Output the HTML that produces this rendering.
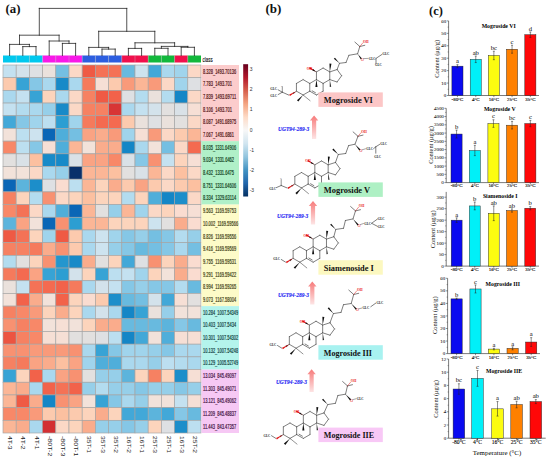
<!DOCTYPE html>
<html><head><meta charset="utf-8"><style>html,body{margin:0;padding:0;background:#fff;width:550px;height:458px;overflow:hidden}svg{display:block}</style></head>
<body><svg width="550" height="458" viewBox="0 0 550 458">
<rect x="0" y="0" width="550" height="458" fill="#fff"/>
<g stroke="#a4a4a4" stroke-width="0.65">
<rect x="3" y="65" width="13.2" height="12.69" fill="#c4e1f0"/>
<rect x="16.2" y="65" width="13.2" height="12.69" fill="#d3e2eb"/>
<rect x="29.4" y="65" width="13.2" height="12.69" fill="#dee0e3"/>
<rect x="42.6" y="65" width="13.2" height="12.69" fill="#eae1dc"/>
<rect x="55.8" y="65" width="13.2" height="12.69" fill="#74bfe2"/>
<rect x="69" y="65" width="13.2" height="12.69" fill="#fbd8c6"/>
<rect x="82.2" y="65" width="13.2" height="12.69" fill="#ef5a44"/>
<rect x="95.4" y="65" width="13.2" height="12.69" fill="#f47256"/>
<rect x="108.6" y="65" width="13.2" height="12.69" fill="#f47256"/>
<rect x="121.8" y="65" width="13.2" height="12.69" fill="#68badf"/>
<rect x="135" y="65" width="13.2" height="12.69" fill="#cde3ef"/>
<rect x="148.2" y="65" width="13.2" height="12.69" fill="#42a8d8"/>
<rect x="161.4" y="65" width="13.2" height="12.69" fill="#aad8ee"/>
<rect x="174.6" y="65" width="13.2" height="12.69" fill="#a0d4ec"/>
<rect x="187.8" y="65" width="13.2" height="12.69" fill="#fbd8c6"/>
<rect x="3" y="77.69" width="13.2" height="12.69" fill="#fccaae"/>
<rect x="16.2" y="77.69" width="13.2" height="12.69" fill="#37a3d5"/>
<rect x="29.4" y="77.69" width="13.2" height="12.69" fill="#85c7e6"/>
<rect x="42.6" y="77.69" width="13.2" height="12.69" fill="#aad8ee"/>
<rect x="55.8" y="77.69" width="13.2" height="12.69" fill="#188ac8"/>
<rect x="69" y="77.69" width="13.2" height="12.69" fill="#aad8ee"/>
<rect x="82.2" y="77.69" width="13.2" height="12.69" fill="#f57a5c"/>
<rect x="95.4" y="77.69" width="13.2" height="12.69" fill="#f6dfd5"/>
<rect x="108.6" y="77.69" width="13.2" height="12.69" fill="#fccaae"/>
<rect x="121.8" y="77.69" width="13.2" height="12.69" fill="#f99a7a"/>
<rect x="135" y="77.69" width="13.2" height="12.69" fill="#fbb696"/>
<rect x="148.2" y="77.69" width="13.2" height="12.69" fill="#f99a7a"/>
<rect x="161.4" y="77.69" width="13.2" height="12.69" fill="#fbd8c6"/>
<rect x="174.6" y="77.69" width="13.2" height="12.69" fill="#a0d4ec"/>
<rect x="187.8" y="77.69" width="13.2" height="12.69" fill="#dee0e3"/>
<rect x="3" y="90.38" width="13.2" height="12.69" fill="#aad8ee"/>
<rect x="16.2" y="90.38" width="13.2" height="12.69" fill="#c4e1f0"/>
<rect x="29.4" y="90.38" width="13.2" height="12.69" fill="#37a3d5"/>
<rect x="42.6" y="90.38" width="13.2" height="12.69" fill="#fcd4bc"/>
<rect x="55.8" y="90.38" width="13.2" height="12.69" fill="#aad8ee"/>
<rect x="69" y="90.38" width="13.2" height="12.69" fill="#fbd8c6"/>
<rect x="82.2" y="90.38" width="13.2" height="12.69" fill="#f68162"/>
<rect x="95.4" y="90.38" width="13.2" height="12.69" fill="#ef5a44"/>
<rect x="108.6" y="90.38" width="13.2" height="12.69" fill="#f2624a"/>
<rect x="121.8" y="90.38" width="13.2" height="12.69" fill="#dee0e3"/>
<rect x="135" y="90.38" width="13.2" height="12.69" fill="#b3dcef"/>
<rect x="148.2" y="90.38" width="13.2" height="12.69" fill="#eae1dc"/>
<rect x="161.4" y="90.38" width="13.2" height="12.69" fill="#b3dcef"/>
<rect x="174.6" y="90.38" width="13.2" height="12.69" fill="#1486c6"/>
<rect x="187.8" y="90.38" width="13.2" height="12.69" fill="#fbd8c6"/>
<rect x="3" y="103.07" width="13.2" height="12.69" fill="#c4e1f0"/>
<rect x="16.2" y="103.07" width="13.2" height="12.69" fill="#b3dcef"/>
<rect x="29.4" y="103.07" width="13.2" height="12.69" fill="#aad8ee"/>
<rect x="42.6" y="103.07" width="13.2" height="12.69" fill="#96cfe9"/>
<rect x="55.8" y="103.07" width="13.2" height="12.69" fill="#188ac8"/>
<rect x="69" y="103.07" width="13.2" height="12.69" fill="#fbd8c6"/>
<rect x="82.2" y="103.07" width="13.2" height="12.69" fill="#f68162"/>
<rect x="95.4" y="103.07" width="13.2" height="12.69" fill="#f68162"/>
<rect x="108.6" y="103.07" width="13.2" height="12.69" fill="#d83535"/>
<rect x="121.8" y="103.07" width="13.2" height="12.69" fill="#aad8ee"/>
<rect x="135" y="103.07" width="13.2" height="12.69" fill="#c4e1f0"/>
<rect x="148.2" y="103.07" width="13.2" height="12.69" fill="#d3e2eb"/>
<rect x="161.4" y="103.07" width="13.2" height="12.69" fill="#e2e0df"/>
<rect x="174.6" y="103.07" width="13.2" height="12.69" fill="#d9e1e7"/>
<rect x="187.8" y="103.07" width="13.2" height="12.69" fill="#f6dfd5"/>
<rect x="3" y="115.76" width="13.2" height="12.69" fill="#42a8d8"/>
<rect x="16.2" y="115.76" width="13.2" height="12.69" fill="#85c7e6"/>
<rect x="29.4" y="115.76" width="13.2" height="12.69" fill="#a0d4ec"/>
<rect x="42.6" y="115.76" width="13.2" height="12.69" fill="#bcdff0"/>
<rect x="55.8" y="115.76" width="13.2" height="12.69" fill="#2c9ed2"/>
<rect x="69" y="115.76" width="13.2" height="12.69" fill="#a0d4ec"/>
<rect x="82.2" y="115.76" width="13.2" height="12.69" fill="#f57a5c"/>
<rect x="95.4" y="115.76" width="13.2" height="12.69" fill="#f46a50"/>
<rect x="108.6" y="115.76" width="13.2" height="12.69" fill="#f46a50"/>
<rect x="121.8" y="115.76" width="13.2" height="12.69" fill="#fccaae"/>
<rect x="135" y="115.76" width="13.2" height="12.69" fill="#eae1dc"/>
<rect x="148.2" y="115.76" width="13.2" height="12.69" fill="#dee0e3"/>
<rect x="161.4" y="115.76" width="13.2" height="12.69" fill="#eae1dc"/>
<rect x="174.6" y="115.76" width="13.2" height="12.69" fill="#e2e0df"/>
<rect x="187.8" y="115.76" width="13.2" height="12.69" fill="#fbd8c6"/>
<rect x="3" y="128.45" width="13.2" height="12.69" fill="#f2e2da"/>
<rect x="16.2" y="128.45" width="13.2" height="12.69" fill="#bcdff0"/>
<rect x="29.4" y="128.45" width="13.2" height="12.69" fill="#cde3ef"/>
<rect x="42.6" y="128.45" width="13.2" height="12.69" fill="#0a66b6"/>
<rect x="55.8" y="128.45" width="13.2" height="12.69" fill="#4faeda"/>
<rect x="69" y="128.45" width="13.2" height="12.69" fill="#74bfe2"/>
<rect x="82.2" y="128.45" width="13.2" height="12.69" fill="#faa383"/>
<rect x="95.4" y="128.45" width="13.2" height="12.69" fill="#faac8c"/>
<rect x="108.6" y="128.45" width="13.2" height="12.69" fill="#f99a7a"/>
<rect x="121.8" y="128.45" width="13.2" height="12.69" fill="#a0d4ec"/>
<rect x="135" y="128.45" width="13.2" height="12.69" fill="#f6dfd5"/>
<rect x="148.2" y="128.45" width="13.2" height="12.69" fill="#f99a7a"/>
<rect x="161.4" y="128.45" width="13.2" height="12.69" fill="#fbd8c6"/>
<rect x="174.6" y="128.45" width="13.2" height="12.69" fill="#fccaae"/>
<rect x="187.8" y="128.45" width="13.2" height="12.69" fill="#fbb696"/>
<rect x="3" y="141.14" width="13.2" height="12.69" fill="#f88868"/>
<rect x="16.2" y="141.14" width="13.2" height="12.69" fill="#bcdff0"/>
<rect x="29.4" y="141.14" width="13.2" height="12.69" fill="#85c7e6"/>
<rect x="42.6" y="141.14" width="13.2" height="12.69" fill="#f6dfd5"/>
<rect x="55.8" y="141.14" width="13.2" height="12.69" fill="#4faeda"/>
<rect x="69" y="141.14" width="13.2" height="12.69" fill="#fbb696"/>
<rect x="82.2" y="141.14" width="13.2" height="12.69" fill="#f2e2da"/>
<rect x="95.4" y="141.14" width="13.2" height="12.69" fill="#faac8c"/>
<rect x="108.6" y="141.14" width="13.2" height="12.69" fill="#faac8c"/>
<rect x="121.8" y="141.14" width="13.2" height="12.69" fill="#1486c6"/>
<rect x="135" y="141.14" width="13.2" height="12.69" fill="#aad8ee"/>
<rect x="148.2" y="141.14" width="13.2" height="12.69" fill="#f2e2da"/>
<rect x="161.4" y="141.14" width="13.2" height="12.69" fill="#74bfe2"/>
<rect x="174.6" y="141.14" width="13.2" height="12.69" fill="#fbd8c6"/>
<rect x="187.8" y="141.14" width="13.2" height="12.69" fill="#f46a50"/>
<rect x="3" y="153.83" width="13.2" height="12.69" fill="#e2e0df"/>
<rect x="16.2" y="153.83" width="13.2" height="12.69" fill="#d9e1e7"/>
<rect x="29.4" y="153.83" width="13.2" height="12.69" fill="#fcc0a0"/>
<rect x="42.6" y="153.83" width="13.2" height="12.69" fill="#188ac8"/>
<rect x="55.8" y="153.83" width="13.2" height="12.69" fill="#188ac8"/>
<rect x="69" y="153.83" width="13.2" height="12.69" fill="#d9e1e7"/>
<rect x="82.2" y="153.83" width="13.2" height="12.69" fill="#faa383"/>
<rect x="95.4" y="153.83" width="13.2" height="12.69" fill="#faa383"/>
<rect x="108.6" y="153.83" width="13.2" height="12.69" fill="#f88868"/>
<rect x="121.8" y="153.83" width="13.2" height="12.69" fill="#d9e1e7"/>
<rect x="135" y="153.83" width="13.2" height="12.69" fill="#85c7e6"/>
<rect x="148.2" y="153.83" width="13.2" height="12.69" fill="#f89171"/>
<rect x="161.4" y="153.83" width="13.2" height="12.69" fill="#c4e1f0"/>
<rect x="174.6" y="153.83" width="13.2" height="12.69" fill="#fcd4bc"/>
<rect x="187.8" y="153.83" width="13.2" height="12.69" fill="#f6dfd5"/>
<rect x="3" y="166.52" width="13.2" height="12.69" fill="#f2e2da"/>
<rect x="16.2" y="166.52" width="13.2" height="12.69" fill="#f2e2da"/>
<rect x="29.4" y="166.52" width="13.2" height="12.69" fill="#fbd8c6"/>
<rect x="42.6" y="166.52" width="13.2" height="12.69" fill="#aad8ee"/>
<rect x="55.8" y="166.52" width="13.2" height="12.69" fill="#96cfe9"/>
<rect x="69" y="166.52" width="13.2" height="12.69" fill="#08306b"/>
<rect x="82.2" y="166.52" width="13.2" height="12.69" fill="#fbb696"/>
<rect x="95.4" y="166.52" width="13.2" height="12.69" fill="#fbb696"/>
<rect x="108.6" y="166.52" width="13.2" height="12.69" fill="#fcc0a0"/>
<rect x="121.8" y="166.52" width="13.2" height="12.69" fill="#e2e0df"/>
<rect x="135" y="166.52" width="13.2" height="12.69" fill="#d9e1e7"/>
<rect x="148.2" y="166.52" width="13.2" height="12.69" fill="#fbb696"/>
<rect x="161.4" y="166.52" width="13.2" height="12.69" fill="#fbd8c6"/>
<rect x="174.6" y="166.52" width="13.2" height="12.69" fill="#fcc0a0"/>
<rect x="187.8" y="166.52" width="13.2" height="12.69" fill="#fbd8c6"/>
<rect x="3" y="179.21" width="13.2" height="12.69" fill="#0a66b6"/>
<rect x="16.2" y="179.21" width="13.2" height="12.69" fill="#5cb4dc"/>
<rect x="29.4" y="179.21" width="13.2" height="12.69" fill="#1c8eca"/>
<rect x="42.6" y="179.21" width="13.2" height="12.69" fill="#dee0e3"/>
<rect x="55.8" y="179.21" width="13.2" height="12.69" fill="#fadcd0"/>
<rect x="69" y="179.21" width="13.2" height="12.69" fill="#bcdff0"/>
<rect x="82.2" y="179.21" width="13.2" height="12.69" fill="#fbb696"/>
<rect x="95.4" y="179.21" width="13.2" height="12.69" fill="#fcd4bc"/>
<rect x="108.6" y="179.21" width="13.2" height="12.69" fill="#faac8c"/>
<rect x="121.8" y="179.21" width="13.2" height="12.69" fill="#fccaae"/>
<rect x="135" y="179.21" width="13.2" height="12.69" fill="#faa383"/>
<rect x="148.2" y="179.21" width="13.2" height="12.69" fill="#fccaae"/>
<rect x="161.4" y="179.21" width="13.2" height="12.69" fill="#fbd8c6"/>
<rect x="174.6" y="179.21" width="13.2" height="12.69" fill="#fccaae"/>
<rect x="187.8" y="179.21" width="13.2" height="12.69" fill="#fcc0a0"/>
<rect x="3" y="191.9" width="13.2" height="12.69" fill="#f68162"/>
<rect x="16.2" y="191.9" width="13.2" height="12.69" fill="#fcd4bc"/>
<rect x="29.4" y="191.9" width="13.2" height="12.69" fill="#b3dcef"/>
<rect x="42.6" y="191.9" width="13.2" height="12.69" fill="#f89171"/>
<rect x="55.8" y="191.9" width="13.2" height="12.69" fill="#fbd8c6"/>
<rect x="69" y="191.9" width="13.2" height="12.69" fill="#fcd4bc"/>
<rect x="82.2" y="191.9" width="13.2" height="12.69" fill="#fcc0a0"/>
<rect x="95.4" y="191.9" width="13.2" height="12.69" fill="#fcd4bc"/>
<rect x="108.6" y="191.9" width="13.2" height="12.69" fill="#fcd4bc"/>
<rect x="121.8" y="191.9" width="13.2" height="12.69" fill="#b3dcef"/>
<rect x="135" y="191.9" width="13.2" height="12.69" fill="#fcd4bc"/>
<rect x="148.2" y="191.9" width="13.2" height="12.69" fill="#4faeda"/>
<rect x="161.4" y="191.9" width="13.2" height="12.69" fill="#1486c6"/>
<rect x="174.6" y="191.9" width="13.2" height="12.69" fill="#1c8eca"/>
<rect x="187.8" y="191.9" width="13.2" height="12.69" fill="#fbd8c6"/>
<rect x="3" y="204.59" width="13.2" height="12.69" fill="#f88868"/>
<rect x="16.2" y="204.59" width="13.2" height="12.69" fill="#f47256"/>
<rect x="29.4" y="204.59" width="13.2" height="12.69" fill="#fbd8c6"/>
<rect x="42.6" y="204.59" width="13.2" height="12.69" fill="#aad8ee"/>
<rect x="55.8" y="204.59" width="13.2" height="12.69" fill="#4faeda"/>
<rect x="69" y="204.59" width="13.2" height="12.69" fill="#0a66b6"/>
<rect x="82.2" y="204.59" width="13.2" height="12.69" fill="#fbb696"/>
<rect x="95.4" y="204.59" width="13.2" height="12.69" fill="#e2e0df"/>
<rect x="108.6" y="204.59" width="13.2" height="12.69" fill="#96cfe9"/>
<rect x="121.8" y="204.59" width="13.2" height="12.69" fill="#fbb696"/>
<rect x="135" y="204.59" width="13.2" height="12.69" fill="#a0d4ec"/>
<rect x="148.2" y="204.59" width="13.2" height="12.69" fill="#fbd8c6"/>
<rect x="161.4" y="204.59" width="13.2" height="12.69" fill="#fcd4bc"/>
<rect x="174.6" y="204.59" width="13.2" height="12.69" fill="#fadcd0"/>
<rect x="187.8" y="204.59" width="13.2" height="12.69" fill="#f6dfd5"/>
<rect x="3" y="217.28" width="13.2" height="12.69" fill="#5cb4dc"/>
<rect x="16.2" y="217.28" width="13.2" height="12.69" fill="#faa383"/>
<rect x="29.4" y="217.28" width="13.2" height="12.69" fill="#f2e2da"/>
<rect x="42.6" y="217.28" width="13.2" height="12.69" fill="#0a66b6"/>
<rect x="55.8" y="217.28" width="13.2" height="12.69" fill="#f89171"/>
<rect x="69" y="217.28" width="13.2" height="12.69" fill="#2c9ed2"/>
<rect x="82.2" y="217.28" width="13.2" height="12.69" fill="#fbb696"/>
<rect x="95.4" y="217.28" width="13.2" height="12.69" fill="#fbb696"/>
<rect x="108.6" y="217.28" width="13.2" height="12.69" fill="#fcd4bc"/>
<rect x="121.8" y="217.28" width="13.2" height="12.69" fill="#fcd4bc"/>
<rect x="135" y="217.28" width="13.2" height="12.69" fill="#fcd4bc"/>
<rect x="148.2" y="217.28" width="13.2" height="12.69" fill="#cde3ef"/>
<rect x="161.4" y="217.28" width="13.2" height="12.69" fill="#e2e0df"/>
<rect x="174.6" y="217.28" width="13.2" height="12.69" fill="#faac8c"/>
<rect x="187.8" y="217.28" width="13.2" height="12.69" fill="#fadcd0"/>
<rect x="3" y="229.97" width="13.2" height="12.69" fill="#ef5a44"/>
<rect x="16.2" y="229.97" width="13.2" height="12.69" fill="#f47256"/>
<rect x="29.4" y="229.97" width="13.2" height="12.69" fill="#fcd4bc"/>
<rect x="42.6" y="229.97" width="13.2" height="12.69" fill="#a0d4ec"/>
<rect x="55.8" y="229.97" width="13.2" height="12.69" fill="#ef5a44"/>
<rect x="69" y="229.97" width="13.2" height="12.69" fill="#fccaae"/>
<rect x="82.2" y="229.97" width="13.2" height="12.69" fill="#aad8ee"/>
<rect x="95.4" y="229.97" width="13.2" height="12.69" fill="#cde3ef"/>
<rect x="108.6" y="229.97" width="13.2" height="12.69" fill="#a0d4ec"/>
<rect x="121.8" y="229.97" width="13.2" height="12.69" fill="#85c7e6"/>
<rect x="135" y="229.97" width="13.2" height="12.69" fill="#96cfe9"/>
<rect x="148.2" y="229.97" width="13.2" height="12.69" fill="#74bfe2"/>
<rect x="161.4" y="229.97" width="13.2" height="12.69" fill="#85c7e6"/>
<rect x="174.6" y="229.97" width="13.2" height="12.69" fill="#b3dcef"/>
<rect x="187.8" y="229.97" width="13.2" height="12.69" fill="#96cfe9"/>
<rect x="3" y="242.66" width="13.2" height="12.69" fill="#f68162"/>
<rect x="16.2" y="242.66" width="13.2" height="12.69" fill="#f68162"/>
<rect x="29.4" y="242.66" width="13.2" height="12.69" fill="#f57a5c"/>
<rect x="42.6" y="242.66" width="13.2" height="12.69" fill="#faac8c"/>
<rect x="55.8" y="242.66" width="13.2" height="12.69" fill="#f89171"/>
<rect x="69" y="242.66" width="13.2" height="12.69" fill="#fccaae"/>
<rect x="82.2" y="242.66" width="13.2" height="12.69" fill="#aad8ee"/>
<rect x="95.4" y="242.66" width="13.2" height="12.69" fill="#cde3ef"/>
<rect x="108.6" y="242.66" width="13.2" height="12.69" fill="#96cfe9"/>
<rect x="121.8" y="242.66" width="13.2" height="12.69" fill="#85c7e6"/>
<rect x="135" y="242.66" width="13.2" height="12.69" fill="#68badf"/>
<rect x="148.2" y="242.66" width="13.2" height="12.69" fill="#74bfe2"/>
<rect x="161.4" y="242.66" width="13.2" height="12.69" fill="#85c7e6"/>
<rect x="174.6" y="242.66" width="13.2" height="12.69" fill="#aad8ee"/>
<rect x="187.8" y="242.66" width="13.2" height="12.69" fill="#74bfe2"/>
<rect x="3" y="255.35" width="13.2" height="12.69" fill="#b3dcef"/>
<rect x="16.2" y="255.35" width="13.2" height="12.69" fill="#e2e0df"/>
<rect x="29.4" y="255.35" width="13.2" height="12.69" fill="#fcd4bc"/>
<rect x="42.6" y="255.35" width="13.2" height="12.69" fill="#f89171"/>
<rect x="55.8" y="255.35" width="13.2" height="12.69" fill="#2496ce"/>
<rect x="69" y="255.35" width="13.2" height="12.69" fill="#188ac8"/>
<rect x="82.2" y="255.35" width="13.2" height="12.69" fill="#faac8c"/>
<rect x="95.4" y="255.35" width="13.2" height="12.69" fill="#e2e0df"/>
<rect x="108.6" y="255.35" width="13.2" height="12.69" fill="#fcd4bc"/>
<rect x="121.8" y="255.35" width="13.2" height="12.69" fill="#42a8d8"/>
<rect x="135" y="255.35" width="13.2" height="12.69" fill="#dee0e3"/>
<rect x="148.2" y="255.35" width="13.2" height="12.69" fill="#f89171"/>
<rect x="161.4" y="255.35" width="13.2" height="12.69" fill="#fcd4bc"/>
<rect x="174.6" y="255.35" width="13.2" height="12.69" fill="#faac8c"/>
<rect x="187.8" y="255.35" width="13.2" height="12.69" fill="#fadcd0"/>
<rect x="3" y="268.04" width="13.2" height="12.69" fill="#f57a5c"/>
<rect x="16.2" y="268.04" width="13.2" height="12.69" fill="#f46a50"/>
<rect x="29.4" y="268.04" width="13.2" height="12.69" fill="#faa383"/>
<rect x="42.6" y="268.04" width="13.2" height="12.69" fill="#37a3d5"/>
<rect x="55.8" y="268.04" width="13.2" height="12.69" fill="#2c9ed2"/>
<rect x="69" y="268.04" width="13.2" height="12.69" fill="#d3e2eb"/>
<rect x="82.2" y="268.04" width="13.2" height="12.69" fill="#fcd4bc"/>
<rect x="95.4" y="268.04" width="13.2" height="12.69" fill="#37a3d5"/>
<rect x="108.6" y="268.04" width="13.2" height="12.69" fill="#bcdff0"/>
<rect x="121.8" y="268.04" width="13.2" height="12.69" fill="#c4e1f0"/>
<rect x="135" y="268.04" width="13.2" height="12.69" fill="#a0d4ec"/>
<rect x="148.2" y="268.04" width="13.2" height="12.69" fill="#fcd4bc"/>
<rect x="161.4" y="268.04" width="13.2" height="12.69" fill="#f2e2da"/>
<rect x="174.6" y="268.04" width="13.2" height="12.69" fill="#faac8c"/>
<rect x="187.8" y="268.04" width="13.2" height="12.69" fill="#fadcd0"/>
<rect x="3" y="280.73" width="13.2" height="12.69" fill="#eae1dc"/>
<rect x="16.2" y="280.73" width="13.2" height="12.69" fill="#c4e1f0"/>
<rect x="29.4" y="280.73" width="13.2" height="12.69" fill="#f47256"/>
<rect x="42.6" y="280.73" width="13.2" height="12.69" fill="#f46a50"/>
<rect x="55.8" y="280.73" width="13.2" height="12.69" fill="#f2624a"/>
<rect x="69" y="280.73" width="13.2" height="12.69" fill="#f57a5c"/>
<rect x="82.2" y="280.73" width="13.2" height="12.69" fill="#aad8ee"/>
<rect x="95.4" y="280.73" width="13.2" height="12.69" fill="#d3e2eb"/>
<rect x="108.6" y="280.73" width="13.2" height="12.69" fill="#c4e1f0"/>
<rect x="121.8" y="280.73" width="13.2" height="12.69" fill="#85c7e6"/>
<rect x="135" y="280.73" width="13.2" height="12.69" fill="#96cfe9"/>
<rect x="148.2" y="280.73" width="13.2" height="12.69" fill="#85c7e6"/>
<rect x="161.4" y="280.73" width="13.2" height="12.69" fill="#85c7e6"/>
<rect x="174.6" y="280.73" width="13.2" height="12.69" fill="#b3dcef"/>
<rect x="187.8" y="280.73" width="13.2" height="12.69" fill="#68badf"/>
<rect x="3" y="293.42" width="13.2" height="12.69" fill="#f2e2da"/>
<rect x="16.2" y="293.42" width="13.2" height="12.69" fill="#f2624a"/>
<rect x="29.4" y="293.42" width="13.2" height="12.69" fill="#faac8c"/>
<rect x="42.6" y="293.42" width="13.2" height="12.69" fill="#f2e2da"/>
<rect x="55.8" y="293.42" width="13.2" height="12.69" fill="#f2624a"/>
<rect x="69" y="293.42" width="13.2" height="12.69" fill="#fcd4bc"/>
<rect x="82.2" y="293.42" width="13.2" height="12.69" fill="#fadcd0"/>
<rect x="95.4" y="293.42" width="13.2" height="12.69" fill="#fccaae"/>
<rect x="108.6" y="293.42" width="13.2" height="12.69" fill="#1c8eca"/>
<rect x="121.8" y="293.42" width="13.2" height="12.69" fill="#68badf"/>
<rect x="135" y="293.42" width="13.2" height="12.69" fill="#74bfe2"/>
<rect x="148.2" y="293.42" width="13.2" height="12.69" fill="#d3e2eb"/>
<rect x="161.4" y="293.42" width="13.2" height="12.69" fill="#42a8d8"/>
<rect x="174.6" y="293.42" width="13.2" height="12.69" fill="#f6dfd5"/>
<rect x="187.8" y="293.42" width="13.2" height="12.69" fill="#e2e0df"/>
<rect x="3" y="306.11" width="13.2" height="12.69" fill="#f68162"/>
<rect x="16.2" y="306.11" width="13.2" height="12.69" fill="#f88868"/>
<rect x="29.4" y="306.11" width="13.2" height="12.69" fill="#f99a7a"/>
<rect x="42.6" y="306.11" width="13.2" height="12.69" fill="#fcd4bc"/>
<rect x="55.8" y="306.11" width="13.2" height="12.69" fill="#faac8c"/>
<rect x="69" y="306.11" width="13.2" height="12.69" fill="#fcd4bc"/>
<rect x="82.2" y="306.11" width="13.2" height="12.69" fill="#aad8ee"/>
<rect x="95.4" y="306.11" width="13.2" height="12.69" fill="#d3e2eb"/>
<rect x="108.6" y="306.11" width="13.2" height="12.69" fill="#aad8ee"/>
<rect x="121.8" y="306.11" width="13.2" height="12.69" fill="#1486c6"/>
<rect x="135" y="306.11" width="13.2" height="12.69" fill="#37a3d5"/>
<rect x="148.2" y="306.11" width="13.2" height="12.69" fill="#eae1dc"/>
<rect x="161.4" y="306.11" width="13.2" height="12.69" fill="#96cfe9"/>
<rect x="174.6" y="306.11" width="13.2" height="12.69" fill="#f2e2da"/>
<rect x="187.8" y="306.11" width="13.2" height="12.69" fill="#f2e2da"/>
<rect x="3" y="318.8" width="13.2" height="12.69" fill="#f89171"/>
<rect x="16.2" y="318.8" width="13.2" height="12.69" fill="#f68162"/>
<rect x="29.4" y="318.8" width="13.2" height="12.69" fill="#f88868"/>
<rect x="42.6" y="318.8" width="13.2" height="12.69" fill="#f2e2da"/>
<rect x="55.8" y="318.8" width="13.2" height="12.69" fill="#f6dfd5"/>
<rect x="69" y="318.8" width="13.2" height="12.69" fill="#f2e2da"/>
<rect x="82.2" y="318.8" width="13.2" height="12.69" fill="#fcd4bc"/>
<rect x="95.4" y="318.8" width="13.2" height="12.69" fill="#faac8c"/>
<rect x="108.6" y="318.8" width="13.2" height="12.69" fill="#faac8c"/>
<rect x="121.8" y="318.8" width="13.2" height="12.69" fill="#68badf"/>
<rect x="135" y="318.8" width="13.2" height="12.69" fill="#68badf"/>
<rect x="148.2" y="318.8" width="13.2" height="12.69" fill="#68badf"/>
<rect x="161.4" y="318.8" width="13.2" height="12.69" fill="#5cb4dc"/>
<rect x="174.6" y="318.8" width="13.2" height="12.69" fill="#85c7e6"/>
<rect x="187.8" y="318.8" width="13.2" height="12.69" fill="#68badf"/>
<rect x="3" y="331.49" width="13.2" height="12.69" fill="#ec5441"/>
<rect x="16.2" y="331.49" width="13.2" height="12.69" fill="#f68162"/>
<rect x="29.4" y="331.49" width="13.2" height="12.69" fill="#f88868"/>
<rect x="42.6" y="331.49" width="13.2" height="12.69" fill="#f6dfd5"/>
<rect x="55.8" y="331.49" width="13.2" height="12.69" fill="#f6dfd5"/>
<rect x="69" y="331.49" width="13.2" height="12.69" fill="#e2e0df"/>
<rect x="82.2" y="331.49" width="13.2" height="12.69" fill="#e2e0df"/>
<rect x="95.4" y="331.49" width="13.2" height="12.69" fill="#dee0e3"/>
<rect x="108.6" y="331.49" width="13.2" height="12.69" fill="#bcdff0"/>
<rect x="121.8" y="331.49" width="13.2" height="12.69" fill="#1486c6"/>
<rect x="135" y="331.49" width="13.2" height="12.69" fill="#42a8d8"/>
<rect x="148.2" y="331.49" width="13.2" height="12.69" fill="#f2e2da"/>
<rect x="161.4" y="331.49" width="13.2" height="12.69" fill="#4faeda"/>
<rect x="174.6" y="331.49" width="13.2" height="12.69" fill="#f6dfd5"/>
<rect x="187.8" y="331.49" width="13.2" height="12.69" fill="#f6dfd5"/>
<rect x="3" y="344.18" width="13.2" height="12.69" fill="#f89171"/>
<rect x="16.2" y="344.18" width="13.2" height="12.69" fill="#f89171"/>
<rect x="29.4" y="344.18" width="13.2" height="12.69" fill="#f99a7a"/>
<rect x="42.6" y="344.18" width="13.2" height="12.69" fill="#f99a7a"/>
<rect x="55.8" y="344.18" width="13.2" height="12.69" fill="#f99a7a"/>
<rect x="69" y="344.18" width="13.2" height="12.69" fill="#f89171"/>
<rect x="82.2" y="344.18" width="13.2" height="12.69" fill="#aad8ee"/>
<rect x="95.4" y="344.18" width="13.2" height="12.69" fill="#37a3d5"/>
<rect x="108.6" y="344.18" width="13.2" height="12.69" fill="#85c7e6"/>
<rect x="121.8" y="344.18" width="13.2" height="12.69" fill="#a0d4ec"/>
<rect x="135" y="344.18" width="13.2" height="12.69" fill="#a0d4ec"/>
<rect x="148.2" y="344.18" width="13.2" height="12.69" fill="#96cfe9"/>
<rect x="161.4" y="344.18" width="13.2" height="12.69" fill="#85c7e6"/>
<rect x="174.6" y="344.18" width="13.2" height="12.69" fill="#aad8ee"/>
<rect x="187.8" y="344.18" width="13.2" height="12.69" fill="#aad8ee"/>
<rect x="3" y="356.87" width="13.2" height="12.69" fill="#f68162"/>
<rect x="16.2" y="356.87" width="13.2" height="12.69" fill="#f57a5c"/>
<rect x="29.4" y="356.87" width="13.2" height="12.69" fill="#faa383"/>
<rect x="42.6" y="356.87" width="13.2" height="12.69" fill="#faac8c"/>
<rect x="55.8" y="356.87" width="13.2" height="12.69" fill="#fcc0a0"/>
<rect x="69" y="356.87" width="13.2" height="12.69" fill="#faa383"/>
<rect x="82.2" y="356.87" width="13.2" height="12.69" fill="#a0d4ec"/>
<rect x="95.4" y="356.87" width="13.2" height="12.69" fill="#4faeda"/>
<rect x="108.6" y="356.87" width="13.2" height="12.69" fill="#4faeda"/>
<rect x="121.8" y="356.87" width="13.2" height="12.69" fill="#aad8ee"/>
<rect x="135" y="356.87" width="13.2" height="12.69" fill="#aad8ee"/>
<rect x="148.2" y="356.87" width="13.2" height="12.69" fill="#96cfe9"/>
<rect x="161.4" y="356.87" width="13.2" height="12.69" fill="#bcdff0"/>
<rect x="174.6" y="356.87" width="13.2" height="12.69" fill="#b3dcef"/>
<rect x="187.8" y="356.87" width="13.2" height="12.69" fill="#aad8ee"/>
<rect x="3" y="369.56" width="13.2" height="12.69" fill="#37a3d5"/>
<rect x="16.2" y="369.56" width="13.2" height="12.69" fill="#fcd4bc"/>
<rect x="29.4" y="369.56" width="13.2" height="12.69" fill="#f2624a"/>
<rect x="42.6" y="369.56" width="13.2" height="12.69" fill="#aad8ee"/>
<rect x="55.8" y="369.56" width="13.2" height="12.69" fill="#faa383"/>
<rect x="69" y="369.56" width="13.2" height="12.69" fill="#f89171"/>
<rect x="82.2" y="369.56" width="13.2" height="12.69" fill="#e2e0df"/>
<rect x="95.4" y="369.56" width="13.2" height="12.69" fill="#96cfe9"/>
<rect x="108.6" y="369.56" width="13.2" height="12.69" fill="#96cfe9"/>
<rect x="121.8" y="369.56" width="13.2" height="12.69" fill="#5cb4dc"/>
<rect x="135" y="369.56" width="13.2" height="12.69" fill="#fcd4bc"/>
<rect x="148.2" y="369.56" width="13.2" height="12.69" fill="#f68162"/>
<rect x="161.4" y="369.56" width="13.2" height="12.69" fill="#fcd4bc"/>
<rect x="174.6" y="369.56" width="13.2" height="12.69" fill="#1c8eca"/>
<rect x="187.8" y="369.56" width="13.2" height="12.69" fill="#f6dfd5"/>
<rect x="3" y="382.25" width="13.2" height="12.69" fill="#fbb696"/>
<rect x="16.2" y="382.25" width="13.2" height="12.69" fill="#faac8c"/>
<rect x="29.4" y="382.25" width="13.2" height="12.69" fill="#aad8ee"/>
<rect x="42.6" y="382.25" width="13.2" height="12.69" fill="#f2624a"/>
<rect x="55.8" y="382.25" width="13.2" height="12.69" fill="#f47256"/>
<rect x="69" y="382.25" width="13.2" height="12.69" fill="#f2624a"/>
<rect x="82.2" y="382.25" width="13.2" height="12.69" fill="#96cfe9"/>
<rect x="95.4" y="382.25" width="13.2" height="12.69" fill="#b3dcef"/>
<rect x="108.6" y="382.25" width="13.2" height="12.69" fill="#96cfe9"/>
<rect x="121.8" y="382.25" width="13.2" height="12.69" fill="#96cfe9"/>
<rect x="135" y="382.25" width="13.2" height="12.69" fill="#85c7e6"/>
<rect x="148.2" y="382.25" width="13.2" height="12.69" fill="#96cfe9"/>
<rect x="161.4" y="382.25" width="13.2" height="12.69" fill="#96cfe9"/>
<rect x="174.6" y="382.25" width="13.2" height="12.69" fill="#85c7e6"/>
<rect x="187.8" y="382.25" width="13.2" height="12.69" fill="#96cfe9"/>
<rect x="3" y="394.94" width="13.2" height="12.69" fill="#fbb696"/>
<rect x="16.2" y="394.94" width="13.2" height="12.69" fill="#ef5a44"/>
<rect x="29.4" y="394.94" width="13.2" height="12.69" fill="#faac8c"/>
<rect x="42.6" y="394.94" width="13.2" height="12.69" fill="#1486c6"/>
<rect x="55.8" y="394.94" width="13.2" height="12.69" fill="#f89171"/>
<rect x="69" y="394.94" width="13.2" height="12.69" fill="#faa383"/>
<rect x="82.2" y="394.94" width="13.2" height="12.69" fill="#f2e2da"/>
<rect x="95.4" y="394.94" width="13.2" height="12.69" fill="#37a3d5"/>
<rect x="108.6" y="394.94" width="13.2" height="12.69" fill="#85c7e6"/>
<rect x="121.8" y="394.94" width="13.2" height="12.69" fill="#aad8ee"/>
<rect x="135" y="394.94" width="13.2" height="12.69" fill="#96cfe9"/>
<rect x="148.2" y="394.94" width="13.2" height="12.69" fill="#f2e2da"/>
<rect x="161.4" y="394.94" width="13.2" height="12.69" fill="#f2e2da"/>
<rect x="174.6" y="394.94" width="13.2" height="12.69" fill="#c4e1f0"/>
<rect x="187.8" y="394.94" width="13.2" height="12.69" fill="#f6dfd5"/>
<rect x="3" y="407.63" width="13.2" height="12.69" fill="#f88868"/>
<rect x="16.2" y="407.63" width="13.2" height="12.69" fill="#f88868"/>
<rect x="29.4" y="407.63" width="13.2" height="12.69" fill="#f99a7a"/>
<rect x="42.6" y="407.63" width="13.2" height="12.69" fill="#fccaae"/>
<rect x="55.8" y="407.63" width="13.2" height="12.69" fill="#fcc0a0"/>
<rect x="69" y="407.63" width="13.2" height="12.69" fill="#fccaae"/>
<rect x="82.2" y="407.63" width="13.2" height="12.69" fill="#fcd4bc"/>
<rect x="95.4" y="407.63" width="13.2" height="12.69" fill="#faac8c"/>
<rect x="108.6" y="407.63" width="13.2" height="12.69" fill="#fcd4bc"/>
<rect x="121.8" y="407.63" width="13.2" height="12.69" fill="#42a8d8"/>
<rect x="135" y="407.63" width="13.2" height="12.69" fill="#42a8d8"/>
<rect x="148.2" y="407.63" width="13.2" height="12.69" fill="#5cb4dc"/>
<rect x="161.4" y="407.63" width="13.2" height="12.69" fill="#42a8d8"/>
<rect x="174.6" y="407.63" width="13.2" height="12.69" fill="#85c7e6"/>
<rect x="187.8" y="407.63" width="13.2" height="12.69" fill="#68badf"/>
<rect x="3" y="420.32" width="13.2" height="12.69" fill="#fbb696"/>
<rect x="16.2" y="420.32" width="13.2" height="12.69" fill="#faac8c"/>
<rect x="29.4" y="420.32" width="13.2" height="12.69" fill="#aad8ee"/>
<rect x="42.6" y="420.32" width="13.2" height="12.69" fill="#d32f32"/>
<rect x="55.8" y="420.32" width="13.2" height="12.69" fill="#fbd8c6"/>
<rect x="69" y="420.32" width="13.2" height="12.69" fill="#fcd4bc"/>
<rect x="82.2" y="420.32" width="13.2" height="12.69" fill="#faac8c"/>
<rect x="95.4" y="420.32" width="13.2" height="12.69" fill="#96cfe9"/>
<rect x="108.6" y="420.32" width="13.2" height="12.69" fill="#96cfe9"/>
<rect x="121.8" y="420.32" width="13.2" height="12.69" fill="#85c7e6"/>
<rect x="135" y="420.32" width="13.2" height="12.69" fill="#96cfe9"/>
<rect x="148.2" y="420.32" width="13.2" height="12.69" fill="#fcd4bc"/>
<rect x="161.4" y="420.32" width="13.2" height="12.69" fill="#dee0e3"/>
<rect x="174.6" y="420.32" width="13.2" height="12.69" fill="#1c8eca"/>
<rect x="187.8" y="420.32" width="13.2" height="12.69" fill="#bcdff0"/>
</g>
<rect x="3" y="55.5" width="13.2" height="7" fill="#00c8ee"/>
<rect x="16.2" y="55.5" width="13.2" height="7" fill="#00c8ee"/>
<rect x="29.4" y="55.5" width="13.2" height="7" fill="#00c8ee"/>
<rect x="42.6" y="55.5" width="13.2" height="7" fill="#f818e8"/>
<rect x="55.8" y="55.5" width="13.2" height="7" fill="#f818e8"/>
<rect x="69" y="55.5" width="13.2" height="7" fill="#f818e8"/>
<rect x="82.2" y="55.5" width="13.2" height="7" fill="#2c5ee0"/>
<rect x="95.4" y="55.5" width="13.2" height="7" fill="#2c5ee0"/>
<rect x="108.6" y="55.5" width="13.2" height="7" fill="#2c5ee0"/>
<rect x="121.8" y="55.5" width="13.2" height="7" fill="#f0104c"/>
<rect x="135" y="55.5" width="13.2" height="7" fill="#f0104c"/>
<rect x="148.2" y="55.5" width="13.2" height="7" fill="#12b83c"/>
<rect x="161.4" y="55.5" width="13.2" height="7" fill="#12b83c"/>
<rect x="174.6" y="55.5" width="13.2" height="7" fill="#f0104c"/>
<rect x="187.8" y="55.5" width="13.2" height="7" fill="#12b83c"/>
<g stroke="#c0c0c0" stroke-width="0.4">
<line x1="16.2" y1="55.5" x2="16.2" y2="62.5"/>
<line x1="29.4" y1="55.5" x2="29.4" y2="62.5"/>
<line x1="42.6" y1="55.5" x2="42.6" y2="62.5"/>
<line x1="55.8" y1="55.5" x2="55.8" y2="62.5"/>
<line x1="69" y1="55.5" x2="69" y2="62.5"/>
<line x1="82.2" y1="55.5" x2="82.2" y2="62.5"/>
<line x1="95.4" y1="55.5" x2="95.4" y2="62.5"/>
<line x1="108.6" y1="55.5" x2="108.6" y2="62.5"/>
<line x1="121.8" y1="55.5" x2="121.8" y2="62.5"/>
<line x1="135" y1="55.5" x2="135" y2="62.5"/>
<line x1="148.2" y1="55.5" x2="148.2" y2="62.5"/>
<line x1="161.4" y1="55.5" x2="161.4" y2="62.5"/>
<line x1="174.6" y1="55.5" x2="174.6" y2="62.5"/>
<line x1="187.8" y1="55.5" x2="187.8" y2="62.5"/>
</g>
<text x="202.6" y="61.9" font-size="7" font-family="Liberation Sans, sans-serif" fill="#000" stroke="#000" stroke-width="0.12" textLength="10" lengthAdjust="spacingAndGlyphs">class</text>
<g stroke="#1a1a1a" stroke-width="0.75" fill="none" stroke-linecap="square">
<line x1="22.8" y1="55.5" x2="22.8" y2="46.6"/>
<line x1="22.8" y1="46.6" x2="36" y2="46.6"/>
<line x1="36" y1="46.6" x2="36" y2="55.5"/>
<line x1="9.6" y1="55.5" x2="9.6" y2="44.4"/>
<line x1="9.6" y1="44.4" x2="29.4" y2="44.4"/>
<line x1="29.4" y1="44.4" x2="29.4" y2="46.6"/>
<line x1="62.4" y1="55.5" x2="62.4" y2="43.4"/>
<line x1="62.4" y1="43.4" x2="75.6" y2="43.4"/>
<line x1="75.6" y1="43.4" x2="75.6" y2="55.5"/>
<line x1="49.2" y1="55.5" x2="49.2" y2="41"/>
<line x1="49.2" y1="41" x2="69" y2="41"/>
<line x1="69" y1="41" x2="69" y2="43.4"/>
<line x1="19.5" y1="44.4" x2="19.5" y2="35.2"/>
<line x1="19.5" y1="35.2" x2="59.1" y2="35.2"/>
<line x1="59.1" y1="35.2" x2="59.1" y2="41"/>
<line x1="102" y1="55.5" x2="102" y2="49.1"/>
<line x1="102" y1="49.1" x2="115.2" y2="49.1"/>
<line x1="115.2" y1="49.1" x2="115.2" y2="55.5"/>
<line x1="88.8" y1="55.5" x2="88.8" y2="47.4"/>
<line x1="88.8" y1="47.4" x2="108.6" y2="47.4"/>
<line x1="108.6" y1="47.4" x2="108.6" y2="49.1"/>
<line x1="128.4" y1="55.5" x2="128.4" y2="48.4"/>
<line x1="128.4" y1="48.4" x2="141.6" y2="48.4"/>
<line x1="141.6" y1="48.4" x2="141.6" y2="55.5"/>
<line x1="154.8" y1="55.5" x2="154.8" y2="48.3"/>
<line x1="154.8" y1="48.3" x2="168" y2="48.3"/>
<line x1="168" y1="48.3" x2="168" y2="55.5"/>
<line x1="181.2" y1="55.5" x2="181.2" y2="47.3"/>
<line x1="181.2" y1="47.3" x2="194.4" y2="47.3"/>
<line x1="194.4" y1="47.3" x2="194.4" y2="55.5"/>
<line x1="161.4" y1="48.3" x2="161.4" y2="46.4"/>
<line x1="161.4" y1="46.4" x2="187.8" y2="46.4"/>
<line x1="187.8" y1="46.4" x2="187.8" y2="47.3"/>
<line x1="135" y1="48.4" x2="135" y2="42.8"/>
<line x1="135" y1="42.8" x2="174.6" y2="42.8"/>
<line x1="174.6" y1="42.8" x2="174.6" y2="46.4"/>
<line x1="98.7" y1="47.4" x2="98.7" y2="31.3"/>
<line x1="98.7" y1="31.3" x2="154.8" y2="31.3"/>
<line x1="154.8" y1="31.3" x2="154.8" y2="42.8"/>
<line x1="39.3" y1="35.2" x2="39.3" y2="8.4"/>
<line x1="39.3" y1="8.4" x2="126.75" y2="8.4"/>
<line x1="126.75" y1="8.4" x2="126.75" y2="31.3"/>
</g>
<rect x="201.5" y="65" width="37.5" height="76.14" fill="#fccccc"/>
<rect x="201.5" y="141.14" width="37.5" height="63.45" fill="#b0f0c8"/>
<rect x="201.5" y="204.59" width="37.5" height="101.52" fill="#fdfbc8"/>
<rect x="201.5" y="306.11" width="37.5" height="63.45" fill="#b4f4ec"/>
<rect x="201.5" y="369.56" width="37.5" height="63.45" fill="#f6c8f4"/>
<text x="203" y="73.55" font-size="6.4" font-family="Liberation Sans, sans-serif" fill="#4a0c0c" stroke="#4a0c0c" stroke-width="0.18" textLength="33.12" lengthAdjust="spacingAndGlyphs">8.328_1493.70136</text>
<text x="203" y="86.23" font-size="6.4" font-family="Liberation Sans, sans-serif" fill="#4a0c0c" stroke="#4a0c0c" stroke-width="0.18" textLength="28.98" lengthAdjust="spacingAndGlyphs">7.783_1493.701</text>
<text x="203" y="98.92" font-size="6.4" font-family="Liberation Sans, sans-serif" fill="#4a0c0c" stroke="#4a0c0c" stroke-width="0.18" textLength="33.12" lengthAdjust="spacingAndGlyphs">7.839_1493.69711</text>
<text x="203" y="111.61" font-size="6.4" font-family="Liberation Sans, sans-serif" fill="#4a0c0c" stroke="#4a0c0c" stroke-width="0.18" textLength="28.98" lengthAdjust="spacingAndGlyphs">8.106_1493.701</text>
<text x="203" y="124.3" font-size="6.4" font-family="Liberation Sans, sans-serif" fill="#4a0c0c" stroke="#4a0c0c" stroke-width="0.18" textLength="33.12" lengthAdjust="spacingAndGlyphs">8.087_1491.68975</text>
<text x="203" y="137" font-size="6.4" font-family="Liberation Sans, sans-serif" fill="#4a0c0c" stroke="#4a0c0c" stroke-width="0.18" textLength="31.05" lengthAdjust="spacingAndGlyphs">7.067_1491.6861</text>
<text x="203" y="149.69" font-size="6.4" font-family="Liberation Sans, sans-serif" fill="#0c3a18" stroke="#0c3a18" stroke-width="0.18" textLength="33.12" lengthAdjust="spacingAndGlyphs">8.035_1331.64906</text>
<text x="203" y="162.38" font-size="6.4" font-family="Liberation Sans, sans-serif" fill="#0c3a18" stroke="#0c3a18" stroke-width="0.18" textLength="31.05" lengthAdjust="spacingAndGlyphs">9.034_1331.6462</text>
<text x="203" y="175.06" font-size="6.4" font-family="Liberation Sans, sans-serif" fill="#0c3a18" stroke="#0c3a18" stroke-width="0.18" textLength="31.05" lengthAdjust="spacingAndGlyphs">8.432_1331.6475</text>
<text x="203" y="187.75" font-size="6.4" font-family="Liberation Sans, sans-serif" fill="#0c3a18" stroke="#0c3a18" stroke-width="0.18" textLength="33.12" lengthAdjust="spacingAndGlyphs">8.751_1331.64606</text>
<text x="203" y="200.44" font-size="6.4" font-family="Liberation Sans, sans-serif" fill="#0c3a18" stroke="#0c3a18" stroke-width="0.18" textLength="33.12" lengthAdjust="spacingAndGlyphs">8.334_1329.63114</text>
<text x="203" y="213.13" font-size="6.4" font-family="Liberation Sans, sans-serif" fill="#3a3a10" stroke="#3a3a10" stroke-width="0.18" textLength="33.12" lengthAdjust="spacingAndGlyphs">9.563_1169.59753</text>
<text x="203" y="225.82" font-size="6.4" font-family="Liberation Sans, sans-serif" fill="#3a3a10" stroke="#3a3a10" stroke-width="0.18" textLength="35.19" lengthAdjust="spacingAndGlyphs">10.002_1169.59566</text>
<text x="203" y="238.51" font-size="6.4" font-family="Liberation Sans, sans-serif" fill="#3a3a10" stroke="#3a3a10" stroke-width="0.18" textLength="33.12" lengthAdjust="spacingAndGlyphs">8.826_1169.59556</text>
<text x="203" y="251.2" font-size="6.4" font-family="Liberation Sans, sans-serif" fill="#3a3a10" stroke="#3a3a10" stroke-width="0.18" textLength="33.12" lengthAdjust="spacingAndGlyphs">9.416_1169.59569</text>
<text x="203" y="263.89" font-size="6.4" font-family="Liberation Sans, sans-serif" fill="#3a3a10" stroke="#3a3a10" stroke-width="0.18" textLength="33.12" lengthAdjust="spacingAndGlyphs">9.755_1169.59531</text>
<text x="203" y="276.58" font-size="6.4" font-family="Liberation Sans, sans-serif" fill="#3a3a10" stroke="#3a3a10" stroke-width="0.18" textLength="33.12" lengthAdjust="spacingAndGlyphs">9.291_1169.59422</text>
<text x="203" y="289.27" font-size="6.4" font-family="Liberation Sans, sans-serif" fill="#3a3a10" stroke="#3a3a10" stroke-width="0.18" textLength="33.12" lengthAdjust="spacingAndGlyphs">8.994_1169.59265</text>
<text x="203" y="301.96" font-size="6.4" font-family="Liberation Sans, sans-serif" fill="#3a3a10" stroke="#3a3a10" stroke-width="0.18" textLength="33.12" lengthAdjust="spacingAndGlyphs">9.073_1167.58004</text>
<text x="203" y="314.65" font-size="6.4" font-family="Liberation Sans, sans-serif" fill="#0c3838" stroke="#0c3838" stroke-width="0.18" textLength="35.19" lengthAdjust="spacingAndGlyphs">10.284_1007.54349</text>
<text x="203" y="327.34" font-size="6.4" font-family="Liberation Sans, sans-serif" fill="#0c3838" stroke="#0c3838" stroke-width="0.18" textLength="33.12" lengthAdjust="spacingAndGlyphs">10.403_1007.5434</text>
<text x="203" y="340.03" font-size="6.4" font-family="Liberation Sans, sans-serif" fill="#0c3838" stroke="#0c3838" stroke-width="0.18" textLength="35.19" lengthAdjust="spacingAndGlyphs">10.301_1007.54302</text>
<text x="203" y="352.72" font-size="6.4" font-family="Liberation Sans, sans-serif" fill="#0c3838" stroke="#0c3838" stroke-width="0.18" textLength="35.19" lengthAdjust="spacingAndGlyphs">10.132_1007.54248</text>
<text x="203" y="365.41" font-size="6.4" font-family="Liberation Sans, sans-serif" fill="#0c3838" stroke="#0c3838" stroke-width="0.18" textLength="35.19" lengthAdjust="spacingAndGlyphs">10.129_1005.52749</text>
<text x="203" y="378.1" font-size="6.4" font-family="Liberation Sans, sans-serif" fill="#3a0c38" stroke="#3a0c38" stroke-width="0.18" textLength="33.12" lengthAdjust="spacingAndGlyphs">13.034_845.49097</text>
<text x="203" y="390.79" font-size="6.4" font-family="Liberation Sans, sans-serif" fill="#3a0c38" stroke="#3a0c38" stroke-width="0.18" textLength="33.12" lengthAdjust="spacingAndGlyphs">11.303_845.49071</text>
<text x="203" y="403.48" font-size="6.4" font-family="Liberation Sans, sans-serif" fill="#3a0c38" stroke="#3a0c38" stroke-width="0.18" textLength="33.12" lengthAdjust="spacingAndGlyphs">13.121_845.49062</text>
<text x="203" y="416.17" font-size="6.4" font-family="Liberation Sans, sans-serif" fill="#3a0c38" stroke="#3a0c38" stroke-width="0.18" textLength="33.12" lengthAdjust="spacingAndGlyphs">11.209_845.48837</text>
<text x="203" y="428.86" font-size="6.4" font-family="Liberation Sans, sans-serif" fill="#3a0c38" stroke="#3a0c38" stroke-width="0.18" textLength="33.12" lengthAdjust="spacingAndGlyphs">11.443_843.47357</text>
<defs><linearGradient id="cb" x1="0" y1="0" x2="0" y2="1"><stop offset="0" stop-color="#67001f"/><stop offset="0.1" stop-color="#b2182b"/><stop offset="0.2" stop-color="#d6604d"/><stop offset="0.3" stop-color="#f4a582"/><stop offset="0.4" stop-color="#fddbc7"/><stop offset="0.5" stop-color="#f7f7f7"/><stop offset="0.6" stop-color="#d1e5f0"/><stop offset="0.7" stop-color="#92c5de"/><stop offset="0.8" stop-color="#4393c3"/><stop offset="0.9" stop-color="#2166ac"/><stop offset="1" stop-color="#053061"/></linearGradient><linearGradient id="arr" x1="0" y1="0" x2="0" y2="1"><stop offset="0" stop-color="#f77a7a"/><stop offset="1" stop-color="#fde4e4"/></linearGradient></defs>
<rect x="243.2" y="64.2" width="4.9" height="132.3" fill="url(#cb)"/>
<text x="249.7" y="70.6" font-size="5.0" font-family="Liberation Sans, sans-serif" fill="#333">3</text>
<text x="249.7" y="90.9" font-size="5.0" font-family="Liberation Sans, sans-serif" fill="#333">2</text>
<text x="249.7" y="111.2" font-size="5.0" font-family="Liberation Sans, sans-serif" fill="#333">1</text>
<text x="249.7" y="131.5" font-size="5.0" font-family="Liberation Sans, sans-serif" fill="#333">0</text>
<text x="249.7" y="151.8" font-size="5.0" font-family="Liberation Sans, sans-serif" fill="#333">-1</text>
<text x="249.7" y="172.1" font-size="5.0" font-family="Liberation Sans, sans-serif" fill="#333">-2</text>
<text x="249.7" y="192.4" font-size="5.0" font-family="Liberation Sans, sans-serif" fill="#333">-3</text>
<text transform="translate(9.6,436) rotate(90)" x="0" y="1.4" font-size="4.5" font-family="Liberation Sans, sans-serif" fill="#222" textLength="13.6" lengthAdjust="spacingAndGlyphs">4T-3</text>
<text transform="translate(22.8,436) rotate(90)" x="0" y="1.4" font-size="4.5" font-family="Liberation Sans, sans-serif" fill="#222" textLength="13.6" lengthAdjust="spacingAndGlyphs">4T-2</text>
<text transform="translate(36,436) rotate(90)" x="0" y="1.4" font-size="4.5" font-family="Liberation Sans, sans-serif" fill="#222" textLength="13.6" lengthAdjust="spacingAndGlyphs">4T-1</text>
<text transform="translate(49.2,436) rotate(90)" x="0" y="1.4" font-size="4.5" font-family="Liberation Sans, sans-serif" fill="#222" textLength="20.4" lengthAdjust="spacingAndGlyphs">-80T-2</text>
<text transform="translate(62.4,436) rotate(90)" x="0" y="1.4" font-size="4.5" font-family="Liberation Sans, sans-serif" fill="#222" textLength="20.4" lengthAdjust="spacingAndGlyphs">-80T-3</text>
<text transform="translate(75.6,436) rotate(90)" x="0" y="1.4" font-size="4.5" font-family="Liberation Sans, sans-serif" fill="#222" textLength="20.4" lengthAdjust="spacingAndGlyphs">-80T-1</text>
<text transform="translate(88.8,436) rotate(90)" x="0" y="1.4" font-size="4.5" font-family="Liberation Sans, sans-serif" fill="#222" textLength="17" lengthAdjust="spacingAndGlyphs">35T-1</text>
<text transform="translate(102,436) rotate(90)" x="0" y="1.4" font-size="4.5" font-family="Liberation Sans, sans-serif" fill="#222" textLength="17" lengthAdjust="spacingAndGlyphs">35T-3</text>
<text transform="translate(115.2,436) rotate(90)" x="0" y="1.4" font-size="4.5" font-family="Liberation Sans, sans-serif" fill="#222" textLength="17" lengthAdjust="spacingAndGlyphs">35T-2</text>
<text transform="translate(128.4,436) rotate(90)" x="0" y="1.4" font-size="4.5" font-family="Liberation Sans, sans-serif" fill="#222" textLength="17" lengthAdjust="spacingAndGlyphs">16T-2</text>
<text transform="translate(141.6,436) rotate(90)" x="0" y="1.4" font-size="4.5" font-family="Liberation Sans, sans-serif" fill="#222" textLength="17" lengthAdjust="spacingAndGlyphs">16T-1</text>
<text transform="translate(154.8,436) rotate(90)" x="0" y="1.4" font-size="4.5" font-family="Liberation Sans, sans-serif" fill="#222" textLength="17" lengthAdjust="spacingAndGlyphs">25T-3</text>
<text transform="translate(168,436) rotate(90)" x="0" y="1.4" font-size="4.5" font-family="Liberation Sans, sans-serif" fill="#222" textLength="17" lengthAdjust="spacingAndGlyphs">25T-1</text>
<text transform="translate(181.2,436) rotate(90)" x="0" y="1.4" font-size="4.5" font-family="Liberation Sans, sans-serif" fill="#222" textLength="17" lengthAdjust="spacingAndGlyphs">16T-3</text>
<text transform="translate(194.4,436) rotate(90)" x="0" y="1.4" font-size="4.5" font-family="Liberation Sans, sans-serif" fill="#222" textLength="17" lengthAdjust="spacingAndGlyphs">25T-2</text>
<text x="5.6" y="12.9" font-size="12.8" font-weight="bold" font-family="Liberation Serif, serif" fill="#111">(a)</text>
<text x="265.5" y="13.0" font-size="13" font-weight="bold" font-family="Liberation Serif, serif" fill="#111">(b)</text>
<text x="429" y="14.6" font-size="12.4" font-weight="bold" font-family="Liberation Serif, serif" fill="#111">(c)</text>
<line x1="303.1" y1="79.6" x2="309.77" y2="83.45" stroke="#484848" stroke-width="0.7" stroke-linecap="round"/>
<line x1="309.77" y1="83.45" x2="309.77" y2="91.15" stroke="#484848" stroke-width="0.7" stroke-linecap="round"/>
<line x1="309.77" y1="91.15" x2="303.1" y2="95" stroke="#484848" stroke-width="0.7" stroke-linecap="round"/>
<line x1="303.1" y1="95" x2="296.43" y2="91.15" stroke="#484848" stroke-width="0.7" stroke-linecap="round"/>
<line x1="296.43" y1="91.15" x2="296.43" y2="83.45" stroke="#484848" stroke-width="0.7" stroke-linecap="round"/>
<line x1="296.43" y1="83.45" x2="303.1" y2="79.6" stroke="#484848" stroke-width="0.7" stroke-linecap="round"/>
<line x1="309.77" y1="83.45" x2="316.44" y2="79.6" stroke="#484848" stroke-width="0.7" stroke-linecap="round"/>
<line x1="316.44" y1="79.6" x2="323.11" y2="83.45" stroke="#484848" stroke-width="0.7" stroke-linecap="round"/>
<line x1="323.11" y1="83.45" x2="323.11" y2="91.15" stroke="#484848" stroke-width="0.7" stroke-linecap="round"/>
<line x1="323.11" y1="91.15" x2="316.44" y2="95" stroke="#484848" stroke-width="0.7" stroke-linecap="round"/>
<line x1="316.44" y1="95" x2="309.77" y2="91.15" stroke="#484848" stroke-width="0.7" stroke-linecap="round"/>
<line x1="316.44" y1="79.6" x2="316.44" y2="71.9" stroke="#484848" stroke-width="0.7" stroke-linecap="round"/>
<line x1="316.44" y1="71.9" x2="323.11" y2="68.05" stroke="#484848" stroke-width="0.7" stroke-linecap="round"/>
<line x1="323.11" y1="68.05" x2="329.77" y2="71.9" stroke="#484848" stroke-width="0.7" stroke-linecap="round"/>
<line x1="329.77" y1="71.9" x2="329.77" y2="79.6" stroke="#484848" stroke-width="0.7" stroke-linecap="round"/>
<line x1="329.77" y1="79.6" x2="323.11" y2="83.45" stroke="#484848" stroke-width="0.7" stroke-linecap="round"/>
<line x1="329.77" y1="71.9" x2="337.1" y2="69.52" stroke="#484848" stroke-width="0.7" stroke-linecap="round"/>
<line x1="337.1" y1="69.52" x2="341.62" y2="75.75" stroke="#484848" stroke-width="0.7" stroke-linecap="round"/>
<line x1="341.62" y1="75.75" x2="337.1" y2="81.98" stroke="#484848" stroke-width="0.7" stroke-linecap="round"/>
<line x1="337.1" y1="81.98" x2="329.77" y2="79.6" stroke="#484848" stroke-width="0.7" stroke-linecap="round"/>
<line x1="312.17" y1="90.84" x2="315.5" y2="92.77" stroke="#484848" stroke-width="0.7" stroke-linecap="round"/>
<polygon points="316.44,71.9 309.81,67.01 308.99,68.39" fill="#c00"/>
<polygon points="316.44,71.9 313.11,69.01 312.29,70.39" fill="#111"/>
<text x="309.5" y="69.5" font-size="4" font-family="Liberation Serif, serif" fill="#f01818" text-anchor="middle" font-weight="bold" textLength="5.4" lengthAdjust="spacingAndGlyphs">OH</text>
<polygon points="316.44,79.6 315.39,87.1 317.49,87.1" fill="#111"/>
<polygon points="329.77,71.9 331.47,63.79 329.48,63.61" fill="#111"/>
<polygon points="329.77,79.6 329.73,86.97 331.22,86.83" fill="#333"/>
<polygon points="303.1,95 296.96,100.22 298.44,101.58" fill="#111"/>
<line x1="303.1" y1="95" x2="310.1" y2="100.7" stroke="#484848" stroke-width="0.6" stroke-linecap="round"/>
<polygon points="296.43,91.15 292.67,92.63 293.53,93.97" fill="#222"/>
<polygon points="296.43,91.15 289.18,94.62 290.02,95.98" fill="#e01818"/>
<line x1="337.1" y1="69.52" x2="339.5" y2="63.3" stroke="#484848" stroke-width="0.7" stroke-linecap="round"/>
<polygon points="339.5,63.3 334.97,57.63 333.83,58.77" fill="#111"/>
<line x1="339.5" y1="63.3" x2="346" y2="62.5" stroke="#484848" stroke-width="0.7" stroke-linecap="round"/>
<line x1="346" y1="62.5" x2="348.9" y2="55.3" stroke="#484848" stroke-width="0.7" stroke-linecap="round"/>
<line x1="348.9" y1="55.3" x2="357.6" y2="53.8" stroke="#484848" stroke-width="0.7" stroke-linecap="round"/>
<polygon points="357.6,53.8 360.65,59.37 361.95,58.43" fill="#111"/>
<text x="362.3" y="60.53" font-size="3.8" font-family="Liberation Serif, serif" fill="#e81818" text-anchor="middle">O</text>
<line x1="357.6" y1="53.8" x2="359.8" y2="46.5" stroke="#484848" stroke-width="0.7" stroke-linecap="round"/>
<line x1="359.8" y1="46.5" x2="354.9" y2="42.1" stroke="#484848" stroke-width="0.7" stroke-linecap="round"/>
<line x1="359.8" y1="46.5" x2="364.8" y2="45.3" stroke="#484848" stroke-width="0.7" stroke-linecap="round"/>
<line x1="359.8" y1="46.5" x2="362.8" y2="42.9" stroke="#e03030" stroke-width="0.55" stroke-linecap="round"/>
<text x="365.8" y="42.9" font-size="4" font-family="Liberation Serif, serif" fill="#e81818" text-anchor="middle" font-weight="bold" textLength="5.6" lengthAdjust="spacingAndGlyphs">OH</text>
<line x1="363.5" y1="58.6" x2="368.1" y2="58.4" stroke="#484848" stroke-width="0.5" stroke-linecap="round"/>
<text x="372.2" y="59.66" font-size="3.6" font-family="Liberation Serif, serif" fill="#1a1a1a" text-anchor="middle" font-weight="bold" textLength="6.8" lengthAdjust="spacingAndGlyphs">GLC</text>
<line x1="376" y1="58.4" x2="382" y2="54.4" stroke="#484848" stroke-width="0.7" stroke-linecap="round"/>
<text x="386" y="55.26" font-size="3.6" font-family="Liberation Serif, serif" fill="#1a1a1a" text-anchor="middle" font-weight="bold" textLength="6.8" lengthAdjust="spacingAndGlyphs">GLC</text>
<line x1="376" y1="58.4" x2="376" y2="63.4" stroke="#484848" stroke-width="0.7" stroke-linecap="round"/>
<text x="378.4" y="66.46" font-size="3.6" font-family="Liberation Serif, serif" fill="#1a1a1a" text-anchor="middle" font-weight="bold" textLength="6.8" lengthAdjust="spacingAndGlyphs">GLC</text>
<line x1="288.8" y1="95.1" x2="282.3" y2="92.2" stroke="#484848" stroke-width="0.7" stroke-linecap="round"/>
<line x1="282.3" y1="92.2" x2="282.3" y2="86.8" stroke="#484848" stroke-width="0.6" stroke-linecap="round"/>
<text x="282" y="86.51" font-size="2.6" font-family="Liberation Serif, serif" fill="#555" text-anchor="middle">6</text>
<line x1="282.3" y1="92.2" x2="278.1" y2="89.8" stroke="#484848" stroke-width="0.7" stroke-linecap="round"/>
<text x="273.7" y="90.46" font-size="3.6" font-family="Liberation Serif, serif" fill="#1a1a1a" text-anchor="middle" font-weight="bold" textLength="6.8" lengthAdjust="spacingAndGlyphs">GLC</text>
<line x1="282.3" y1="92.2" x2="278.1" y2="94.6" stroke="#484848" stroke-width="0.7" stroke-linecap="round"/>
<text x="273.7" y="96.56" font-size="3.6" font-family="Liberation Serif, serif" fill="#1a1a1a" text-anchor="middle" font-weight="bold" textLength="6.8" lengthAdjust="spacingAndGlyphs">GLC</text>
<line x1="301.5" y1="172.5" x2="308.17" y2="176.35" stroke="#484848" stroke-width="0.7" stroke-linecap="round"/>
<line x1="308.17" y1="176.35" x2="308.17" y2="184.05" stroke="#484848" stroke-width="0.7" stroke-linecap="round"/>
<line x1="308.17" y1="184.05" x2="301.5" y2="187.9" stroke="#484848" stroke-width="0.7" stroke-linecap="round"/>
<line x1="301.5" y1="187.9" x2="294.83" y2="184.05" stroke="#484848" stroke-width="0.7" stroke-linecap="round"/>
<line x1="294.83" y1="184.05" x2="294.83" y2="176.35" stroke="#484848" stroke-width="0.7" stroke-linecap="round"/>
<line x1="294.83" y1="176.35" x2="301.5" y2="172.5" stroke="#484848" stroke-width="0.7" stroke-linecap="round"/>
<line x1="308.17" y1="176.35" x2="314.84" y2="172.5" stroke="#484848" stroke-width="0.7" stroke-linecap="round"/>
<line x1="314.84" y1="172.5" x2="321.51" y2="176.35" stroke="#484848" stroke-width="0.7" stroke-linecap="round"/>
<line x1="321.51" y1="176.35" x2="321.51" y2="184.05" stroke="#484848" stroke-width="0.7" stroke-linecap="round"/>
<line x1="321.51" y1="184.05" x2="314.84" y2="187.9" stroke="#484848" stroke-width="0.7" stroke-linecap="round"/>
<line x1="314.84" y1="187.9" x2="308.17" y2="184.05" stroke="#484848" stroke-width="0.7" stroke-linecap="round"/>
<line x1="314.84" y1="172.5" x2="314.84" y2="164.8" stroke="#484848" stroke-width="0.7" stroke-linecap="round"/>
<line x1="314.84" y1="164.8" x2="321.51" y2="160.95" stroke="#484848" stroke-width="0.7" stroke-linecap="round"/>
<line x1="321.51" y1="160.95" x2="328.17" y2="164.8" stroke="#484848" stroke-width="0.7" stroke-linecap="round"/>
<line x1="328.17" y1="164.8" x2="328.17" y2="172.5" stroke="#484848" stroke-width="0.7" stroke-linecap="round"/>
<line x1="328.17" y1="172.5" x2="321.51" y2="176.35" stroke="#484848" stroke-width="0.7" stroke-linecap="round"/>
<line x1="328.17" y1="164.8" x2="335.5" y2="162.42" stroke="#484848" stroke-width="0.7" stroke-linecap="round"/>
<line x1="335.5" y1="162.42" x2="340.02" y2="168.65" stroke="#484848" stroke-width="0.7" stroke-linecap="round"/>
<line x1="340.02" y1="168.65" x2="335.5" y2="174.88" stroke="#484848" stroke-width="0.7" stroke-linecap="round"/>
<line x1="335.5" y1="174.88" x2="328.17" y2="172.5" stroke="#484848" stroke-width="0.7" stroke-linecap="round"/>
<line x1="310.57" y1="183.74" x2="313.9" y2="185.67" stroke="#484848" stroke-width="0.7" stroke-linecap="round"/>
<polygon points="314.84,164.8 308.21,159.91 307.39,161.29" fill="#c00"/>
<polygon points="314.84,164.8 311.51,161.91 310.69,163.29" fill="#111"/>
<text x="307.9" y="162.4" font-size="4" font-family="Liberation Serif, serif" fill="#f01818" text-anchor="middle" font-weight="bold" textLength="5.4" lengthAdjust="spacingAndGlyphs">OH</text>
<polygon points="314.84,172.5 313.79,180 315.89,180" fill="#111"/>
<polygon points="328.17,164.8 329.87,156.69 327.88,156.51" fill="#111"/>
<polygon points="328.17,172.5 328.13,179.87 329.62,179.73" fill="#333"/>
<polygon points="301.5,187.9 295.36,193.12 296.84,194.48" fill="#111"/>
<line x1="301.5" y1="187.9" x2="308.5" y2="193.6" stroke="#484848" stroke-width="0.6" stroke-linecap="round"/>
<polygon points="294.83,184.05 291.07,185.53 291.93,186.87" fill="#222"/>
<polygon points="294.83,184.05 287.58,187.52 288.42,188.88" fill="#e01818"/>
<line x1="335.5" y1="162.42" x2="338.3" y2="154.5" stroke="#484848" stroke-width="0.7" stroke-linecap="round"/>
<polygon points="338.3,154.5 333.47,148.53 332.33,149.67" fill="#111"/>
<line x1="338.3" y1="154.5" x2="345.7" y2="153.5" stroke="#484848" stroke-width="0.7" stroke-linecap="round"/>
<line x1="345.7" y1="153.5" x2="348.6" y2="145.6" stroke="#484848" stroke-width="0.7" stroke-linecap="round"/>
<line x1="348.6" y1="145.6" x2="355" y2="144.2" stroke="#484848" stroke-width="0.7" stroke-linecap="round"/>
<polygon points="355,144.2 359.28,150.61 360.52,149.59" fill="#111"/>
<text x="360.9" y="151.73" font-size="3.8" font-family="Liberation Serif, serif" fill="#e81818" text-anchor="middle">O</text>
<line x1="355" y1="144.2" x2="358" y2="136.3" stroke="#484848" stroke-width="0.7" stroke-linecap="round"/>
<line x1="358" y1="136.3" x2="353.1" y2="131.9" stroke="#484848" stroke-width="0.7" stroke-linecap="round"/>
<line x1="358" y1="136.3" x2="363" y2="135.1" stroke="#484848" stroke-width="0.7" stroke-linecap="round"/>
<line x1="358" y1="136.3" x2="361" y2="132.7" stroke="#e03030" stroke-width="0.55" stroke-linecap="round"/>
<text x="364" y="132.7" font-size="4" font-family="Liberation Serif, serif" fill="#e81818" text-anchor="middle" font-weight="bold" textLength="5.6" lengthAdjust="spacingAndGlyphs">OH</text>
<line x1="362.1" y1="149.8" x2="365.5" y2="148.8" stroke="#484848" stroke-width="0.5" stroke-linecap="round"/>
<text x="369.6" y="150.06" font-size="3.6" font-family="Liberation Serif, serif" fill="#1a1a1a" text-anchor="middle" font-weight="bold" textLength="6.8" lengthAdjust="spacingAndGlyphs">GLC</text>
<line x1="373.6" y1="148.6" x2="375.8" y2="146.8" stroke="#484848" stroke-width="0.7" stroke-linecap="round"/>
<line x1="375.8" y1="146.8" x2="379.6" y2="144.4" stroke="#484848" stroke-width="0.7" stroke-linecap="round"/>
<text x="383.6" y="145.46" font-size="3.6" font-family="Liberation Serif, serif" fill="#1a1a1a" text-anchor="middle" font-weight="bold" textLength="6.8" lengthAdjust="spacingAndGlyphs">GLC</text>
<line x1="375.8" y1="146.8" x2="375.8" y2="153.2" stroke="#484848" stroke-width="0.7" stroke-linecap="round"/>
<text x="377.7" y="157.56" font-size="3.6" font-family="Liberation Serif, serif" fill="#1a1a1a" text-anchor="middle" font-weight="bold" textLength="6.8" lengthAdjust="spacingAndGlyphs">GLC</text>
<line x1="287.2" y1="188" x2="281.2" y2="185.5" stroke="#484848" stroke-width="0.7" stroke-linecap="round"/>
<line x1="281.2" y1="185.5" x2="281.2" y2="179.5" stroke="#484848" stroke-width="0.6" stroke-linecap="round"/>
<text x="280.9" y="179.11" font-size="2.6" font-family="Liberation Serif, serif" fill="#555" text-anchor="middle">6</text>
<line x1="281.2" y1="185.5" x2="276.2" y2="187.7" stroke="#484848" stroke-width="0.7" stroke-linecap="round"/>
<text x="272.6" y="189.76" font-size="3.6" font-family="Liberation Serif, serif" fill="#1a1a1a" text-anchor="middle" font-weight="bold" textLength="6.8" lengthAdjust="spacingAndGlyphs">GLC</text>
<line x1="299.8" y1="246.8" x2="306.47" y2="250.65" stroke="#484848" stroke-width="0.7" stroke-linecap="round"/>
<line x1="306.47" y1="250.65" x2="306.47" y2="258.35" stroke="#484848" stroke-width="0.7" stroke-linecap="round"/>
<line x1="306.47" y1="258.35" x2="299.8" y2="262.2" stroke="#484848" stroke-width="0.7" stroke-linecap="round"/>
<line x1="299.8" y1="262.2" x2="293.13" y2="258.35" stroke="#484848" stroke-width="0.7" stroke-linecap="round"/>
<line x1="293.13" y1="258.35" x2="293.13" y2="250.65" stroke="#484848" stroke-width="0.7" stroke-linecap="round"/>
<line x1="293.13" y1="250.65" x2="299.8" y2="246.8" stroke="#484848" stroke-width="0.7" stroke-linecap="round"/>
<line x1="306.47" y1="250.65" x2="313.14" y2="246.8" stroke="#484848" stroke-width="0.7" stroke-linecap="round"/>
<line x1="313.14" y1="246.8" x2="319.81" y2="250.65" stroke="#484848" stroke-width="0.7" stroke-linecap="round"/>
<line x1="319.81" y1="250.65" x2="319.81" y2="258.35" stroke="#484848" stroke-width="0.7" stroke-linecap="round"/>
<line x1="319.81" y1="258.35" x2="313.14" y2="262.2" stroke="#484848" stroke-width="0.7" stroke-linecap="round"/>
<line x1="313.14" y1="262.2" x2="306.47" y2="258.35" stroke="#484848" stroke-width="0.7" stroke-linecap="round"/>
<line x1="313.14" y1="246.8" x2="313.14" y2="239.1" stroke="#484848" stroke-width="0.7" stroke-linecap="round"/>
<line x1="313.14" y1="239.1" x2="319.81" y2="235.25" stroke="#484848" stroke-width="0.7" stroke-linecap="round"/>
<line x1="319.81" y1="235.25" x2="326.47" y2="239.1" stroke="#484848" stroke-width="0.7" stroke-linecap="round"/>
<line x1="326.47" y1="239.1" x2="326.47" y2="246.8" stroke="#484848" stroke-width="0.7" stroke-linecap="round"/>
<line x1="326.47" y1="246.8" x2="319.81" y2="250.65" stroke="#484848" stroke-width="0.7" stroke-linecap="round"/>
<line x1="326.47" y1="239.1" x2="333.8" y2="236.72" stroke="#484848" stroke-width="0.7" stroke-linecap="round"/>
<line x1="333.8" y1="236.72" x2="338.32" y2="242.95" stroke="#484848" stroke-width="0.7" stroke-linecap="round"/>
<line x1="338.32" y1="242.95" x2="333.8" y2="249.18" stroke="#484848" stroke-width="0.7" stroke-linecap="round"/>
<line x1="333.8" y1="249.18" x2="326.47" y2="246.8" stroke="#484848" stroke-width="0.7" stroke-linecap="round"/>
<line x1="308.87" y1="258.04" x2="312.2" y2="259.97" stroke="#484848" stroke-width="0.7" stroke-linecap="round"/>
<polygon points="313.14,239.1 306.51,234.21 305.69,235.59" fill="#c00"/>
<polygon points="313.14,239.1 309.81,236.21 308.99,237.59" fill="#111"/>
<text x="306.2" y="236.7" font-size="4" font-family="Liberation Serif, serif" fill="#f01818" text-anchor="middle" font-weight="bold" textLength="5.4" lengthAdjust="spacingAndGlyphs">OH</text>
<polygon points="313.14,246.8 312.09,254.3 314.19,254.3" fill="#111"/>
<polygon points="326.47,239.1 328.17,230.99 326.18,230.81" fill="#111"/>
<polygon points="326.47,246.8 326.43,254.17 327.92,254.03" fill="#333"/>
<polygon points="299.8,262.2 293.66,267.42 295.14,268.78" fill="#111"/>
<line x1="299.8" y1="262.2" x2="306.8" y2="267.9" stroke="#484848" stroke-width="0.6" stroke-linecap="round"/>
<polygon points="293.13,258.35 289.37,259.83 290.23,261.17" fill="#222"/>
<polygon points="293.13,258.35 285.88,261.82 286.72,263.18" fill="#e01818"/>
<line x1="333.8" y1="236.72" x2="335.8" y2="229.4" stroke="#484848" stroke-width="0.7" stroke-linecap="round"/>
<polygon points="335.8,229.4 331.27,223.73 330.13,224.87" fill="#111"/>
<line x1="335.8" y1="229.4" x2="343.5" y2="228.3" stroke="#484848" stroke-width="0.7" stroke-linecap="round"/>
<line x1="343.5" y1="228.3" x2="345.4" y2="220.5" stroke="#484848" stroke-width="0.7" stroke-linecap="round"/>
<line x1="345.4" y1="220.5" x2="353" y2="218.9" stroke="#484848" stroke-width="0.7" stroke-linecap="round"/>
<polygon points="353,218.9 357.49,225.42 358.71,224.38" fill="#111"/>
<text x="359.1" y="226.53" font-size="3.8" font-family="Liberation Serif, serif" fill="#e81818" text-anchor="middle">O</text>
<line x1="353" y1="218.9" x2="355.5" y2="210.9" stroke="#484848" stroke-width="0.7" stroke-linecap="round"/>
<line x1="355.5" y1="210.9" x2="350.6" y2="206.5" stroke="#484848" stroke-width="0.7" stroke-linecap="round"/>
<line x1="355.5" y1="210.9" x2="360.5" y2="209.7" stroke="#484848" stroke-width="0.7" stroke-linecap="round"/>
<line x1="355.5" y1="210.9" x2="358.5" y2="207.3" stroke="#e03030" stroke-width="0.55" stroke-linecap="round"/>
<text x="361.5" y="207.3" font-size="4" font-family="Liberation Serif, serif" fill="#e81818" text-anchor="middle" font-weight="bold" textLength="5.6" lengthAdjust="spacingAndGlyphs">OH</text>
<line x1="360.3" y1="224.6" x2="363.5" y2="223.5" stroke="#484848" stroke-width="0.5" stroke-linecap="round"/>
<text x="367.6" y="224.76" font-size="3.6" font-family="Liberation Serif, serif" fill="#1a1a1a" text-anchor="middle" font-weight="bold" textLength="6.8" lengthAdjust="spacingAndGlyphs">GLC</text>
<line x1="371.6" y1="223.3" x2="377.4" y2="219.1" stroke="#484848" stroke-width="0.7" stroke-linecap="round"/>
<text x="381.2" y="219.76" font-size="3.6" font-family="Liberation Serif, serif" fill="#1a1a1a" text-anchor="middle" font-weight="bold" textLength="6.8" lengthAdjust="spacingAndGlyphs">GLC</text>
<line x1="371.6" y1="223.3" x2="377.4" y2="226.3" stroke="#484848" stroke-width="0.7" stroke-linecap="round"/>
<text x="381.2" y="227.56" font-size="3.6" font-family="Liberation Serif, serif" fill="#1a1a1a" text-anchor="middle" font-weight="bold" textLength="6.8" lengthAdjust="spacingAndGlyphs">GLC</text>
<line x1="285.5" y1="262.1" x2="281.3" y2="259.5" stroke="#484848" stroke-width="0.7" stroke-linecap="round"/>
<text x="276.7" y="260.36" font-size="3.6" font-family="Liberation Serif, serif" fill="#1a1a1a" text-anchor="middle" font-weight="bold" textLength="6.8" lengthAdjust="spacingAndGlyphs">GLC</text>
<line x1="296" y1="332.8" x2="302.67" y2="336.65" stroke="#484848" stroke-width="0.7" stroke-linecap="round"/>
<line x1="302.67" y1="336.65" x2="302.67" y2="344.35" stroke="#484848" stroke-width="0.7" stroke-linecap="round"/>
<line x1="302.67" y1="344.35" x2="296" y2="348.2" stroke="#484848" stroke-width="0.7" stroke-linecap="round"/>
<line x1="296" y1="348.2" x2="289.33" y2="344.35" stroke="#484848" stroke-width="0.7" stroke-linecap="round"/>
<line x1="289.33" y1="344.35" x2="289.33" y2="336.65" stroke="#484848" stroke-width="0.7" stroke-linecap="round"/>
<line x1="289.33" y1="336.65" x2="296" y2="332.8" stroke="#484848" stroke-width="0.7" stroke-linecap="round"/>
<line x1="302.67" y1="336.65" x2="309.34" y2="332.8" stroke="#484848" stroke-width="0.7" stroke-linecap="round"/>
<line x1="309.34" y1="332.8" x2="316.01" y2="336.65" stroke="#484848" stroke-width="0.7" stroke-linecap="round"/>
<line x1="316.01" y1="336.65" x2="316.01" y2="344.35" stroke="#484848" stroke-width="0.7" stroke-linecap="round"/>
<line x1="316.01" y1="344.35" x2="309.34" y2="348.2" stroke="#484848" stroke-width="0.7" stroke-linecap="round"/>
<line x1="309.34" y1="348.2" x2="302.67" y2="344.35" stroke="#484848" stroke-width="0.7" stroke-linecap="round"/>
<line x1="309.34" y1="332.8" x2="309.34" y2="325.1" stroke="#484848" stroke-width="0.7" stroke-linecap="round"/>
<line x1="309.34" y1="325.1" x2="316.01" y2="321.25" stroke="#484848" stroke-width="0.7" stroke-linecap="round"/>
<line x1="316.01" y1="321.25" x2="322.67" y2="325.1" stroke="#484848" stroke-width="0.7" stroke-linecap="round"/>
<line x1="322.67" y1="325.1" x2="322.67" y2="332.8" stroke="#484848" stroke-width="0.7" stroke-linecap="round"/>
<line x1="322.67" y1="332.8" x2="316.01" y2="336.65" stroke="#484848" stroke-width="0.7" stroke-linecap="round"/>
<line x1="322.67" y1="325.1" x2="330" y2="322.72" stroke="#484848" stroke-width="0.7" stroke-linecap="round"/>
<line x1="330" y1="322.72" x2="334.52" y2="328.95" stroke="#484848" stroke-width="0.7" stroke-linecap="round"/>
<line x1="334.52" y1="328.95" x2="330" y2="335.18" stroke="#484848" stroke-width="0.7" stroke-linecap="round"/>
<line x1="330" y1="335.18" x2="322.67" y2="332.8" stroke="#484848" stroke-width="0.7" stroke-linecap="round"/>
<line x1="305.07" y1="344.04" x2="308.4" y2="345.97" stroke="#484848" stroke-width="0.7" stroke-linecap="round"/>
<polygon points="309.34,325.1 302.71,320.21 301.89,321.59" fill="#c00"/>
<polygon points="309.34,325.1 306.01,322.21 305.19,323.59" fill="#111"/>
<text x="302.4" y="322.7" font-size="4" font-family="Liberation Serif, serif" fill="#f01818" text-anchor="middle" font-weight="bold" textLength="5.4" lengthAdjust="spacingAndGlyphs">OH</text>
<polygon points="309.34,332.8 308.29,340.3 310.39,340.3" fill="#111"/>
<polygon points="322.67,325.1 324.37,316.99 322.38,316.81" fill="#111"/>
<polygon points="322.67,332.8 322.63,340.17 324.12,340.03" fill="#333"/>
<polygon points="296,348.2 289.86,353.42 291.34,354.78" fill="#111"/>
<line x1="296" y1="348.2" x2="303" y2="353.9" stroke="#484848" stroke-width="0.6" stroke-linecap="round"/>
<polygon points="289.33,344.35 285.57,345.83 286.43,347.17" fill="#222"/>
<polygon points="289.33,344.35 282.08,347.82 282.92,349.18" fill="#e01818"/>
<line x1="330" y1="322.72" x2="333.4" y2="313.6" stroke="#484848" stroke-width="0.7" stroke-linecap="round"/>
<polygon points="333.4,313.6 328.9,307.37 327.7,308.43" fill="#111"/>
<line x1="333.4" y1="313.6" x2="341" y2="312.4" stroke="#484848" stroke-width="0.7" stroke-linecap="round"/>
<line x1="341" y1="312.4" x2="343.5" y2="304.7" stroke="#484848" stroke-width="0.7" stroke-linecap="round"/>
<line x1="343.5" y1="304.7" x2="351.2" y2="303.5" stroke="#484848" stroke-width="0.7" stroke-linecap="round"/>
<polygon points="351.2,303.5 355.7,309.73 356.9,308.67" fill="#111"/>
<text x="357.3" y="310.83" font-size="3.8" font-family="Liberation Serif, serif" fill="#e81818" text-anchor="middle">O</text>
<line x1="351.2" y1="303.5" x2="353.7" y2="294.5" stroke="#484848" stroke-width="0.7" stroke-linecap="round"/>
<line x1="353.7" y1="294.5" x2="348.8" y2="290.1" stroke="#484848" stroke-width="0.7" stroke-linecap="round"/>
<line x1="353.7" y1="294.5" x2="358.7" y2="293.3" stroke="#484848" stroke-width="0.7" stroke-linecap="round"/>
<line x1="353.7" y1="294.5" x2="356.7" y2="290.9" stroke="#e03030" stroke-width="0.55" stroke-linecap="round"/>
<text x="359.7" y="290.9" font-size="4" font-family="Liberation Serif, serif" fill="#e81818" text-anchor="middle" font-weight="bold" textLength="5.6" lengthAdjust="spacingAndGlyphs">OH</text>
<line x1="358.5" y1="308.9" x2="361.7" y2="308.1" stroke="#484848" stroke-width="0.5" stroke-linecap="round"/>
<text x="365.8" y="309.36" font-size="3.6" font-family="Liberation Serif, serif" fill="#1a1a1a" text-anchor="middle" font-weight="bold" textLength="6.8" lengthAdjust="spacingAndGlyphs">GLC</text>
<line x1="370.8" y1="306.7" x2="375.8" y2="303.1" stroke="#484848" stroke-width="0.7" stroke-linecap="round"/>
<text x="380" y="304.16" font-size="3.6" font-family="Liberation Serif, serif" fill="#1a1a1a" text-anchor="middle" font-weight="bold" textLength="6.8" lengthAdjust="spacingAndGlyphs">GLC</text>
<line x1="281.7" y1="348.1" x2="277.5" y2="345.5" stroke="#484848" stroke-width="0.7" stroke-linecap="round"/>
<text x="272.9" y="346.36" font-size="3.6" font-family="Liberation Serif, serif" fill="#1a1a1a" text-anchor="middle" font-weight="bold" textLength="6.8" lengthAdjust="spacingAndGlyphs">GLC</text>
<line x1="290" y1="423" x2="296.67" y2="426.85" stroke="#484848" stroke-width="0.7" stroke-linecap="round"/>
<line x1="296.67" y1="426.85" x2="296.67" y2="434.55" stroke="#484848" stroke-width="0.7" stroke-linecap="round"/>
<line x1="296.67" y1="434.55" x2="290" y2="438.4" stroke="#484848" stroke-width="0.7" stroke-linecap="round"/>
<line x1="290" y1="438.4" x2="283.33" y2="434.55" stroke="#484848" stroke-width="0.7" stroke-linecap="round"/>
<line x1="283.33" y1="434.55" x2="283.33" y2="426.85" stroke="#484848" stroke-width="0.7" stroke-linecap="round"/>
<line x1="283.33" y1="426.85" x2="290" y2="423" stroke="#484848" stroke-width="0.7" stroke-linecap="round"/>
<line x1="296.67" y1="426.85" x2="303.34" y2="423" stroke="#484848" stroke-width="0.7" stroke-linecap="round"/>
<line x1="303.34" y1="423" x2="310.01" y2="426.85" stroke="#484848" stroke-width="0.7" stroke-linecap="round"/>
<line x1="310.01" y1="426.85" x2="310.01" y2="434.55" stroke="#484848" stroke-width="0.7" stroke-linecap="round"/>
<line x1="310.01" y1="434.55" x2="303.34" y2="438.4" stroke="#484848" stroke-width="0.7" stroke-linecap="round"/>
<line x1="303.34" y1="438.4" x2="296.67" y2="434.55" stroke="#484848" stroke-width="0.7" stroke-linecap="round"/>
<line x1="303.34" y1="423" x2="303.34" y2="415.3" stroke="#484848" stroke-width="0.7" stroke-linecap="round"/>
<line x1="303.34" y1="415.3" x2="310.01" y2="411.45" stroke="#484848" stroke-width="0.7" stroke-linecap="round"/>
<line x1="310.01" y1="411.45" x2="316.67" y2="415.3" stroke="#484848" stroke-width="0.7" stroke-linecap="round"/>
<line x1="316.67" y1="415.3" x2="316.67" y2="423" stroke="#484848" stroke-width="0.7" stroke-linecap="round"/>
<line x1="316.67" y1="423" x2="310.01" y2="426.85" stroke="#484848" stroke-width="0.7" stroke-linecap="round"/>
<line x1="316.67" y1="415.3" x2="324" y2="412.92" stroke="#484848" stroke-width="0.7" stroke-linecap="round"/>
<line x1="324" y1="412.92" x2="328.52" y2="419.15" stroke="#484848" stroke-width="0.7" stroke-linecap="round"/>
<line x1="328.52" y1="419.15" x2="324" y2="425.38" stroke="#484848" stroke-width="0.7" stroke-linecap="round"/>
<line x1="324" y1="425.38" x2="316.67" y2="423" stroke="#484848" stroke-width="0.7" stroke-linecap="round"/>
<line x1="299.07" y1="434.24" x2="302.4" y2="436.17" stroke="#484848" stroke-width="0.7" stroke-linecap="round"/>
<polygon points="303.34,415.3 296.71,410.41 295.89,411.79" fill="#c00"/>
<polygon points="303.34,415.3 300.01,412.41 299.19,413.79" fill="#111"/>
<text x="296.4" y="412.9" font-size="4" font-family="Liberation Serif, serif" fill="#f01818" text-anchor="middle" font-weight="bold" textLength="5.4" lengthAdjust="spacingAndGlyphs">OH</text>
<polygon points="303.34,423 302.29,430.5 304.39,430.5" fill="#111"/>
<polygon points="316.67,415.3 318.37,407.19 316.38,407.01" fill="#111"/>
<polygon points="316.67,423 316.63,430.37 318.12,430.23" fill="#333"/>
<polygon points="290,438.4 283.86,443.62 285.34,444.98" fill="#111"/>
<line x1="290" y1="438.4" x2="297" y2="444.1" stroke="#484848" stroke-width="0.6" stroke-linecap="round"/>
<polygon points="283.33,434.55 279.57,436.03 280.43,437.37" fill="#222"/>
<polygon points="283.33,434.55 276.08,438.02 276.92,439.38" fill="#e01818"/>
<line x1="324" y1="412.92" x2="327.7" y2="404.6" stroke="#484848" stroke-width="0.7" stroke-linecap="round"/>
<polygon points="327.7,404.6 323.18,398.75 322.02,399.85" fill="#111"/>
<line x1="327.7" y1="404.6" x2="335.4" y2="403.3" stroke="#484848" stroke-width="0.7" stroke-linecap="round"/>
<line x1="335.4" y1="403.3" x2="337.9" y2="395.5" stroke="#484848" stroke-width="0.7" stroke-linecap="round"/>
<line x1="337.9" y1="395.5" x2="345.5" y2="394.2" stroke="#484848" stroke-width="0.7" stroke-linecap="round"/>
<polygon points="345.5,394.2 350,400.43 351.2,399.37" fill="#111"/>
<text x="351.6" y="401.53" font-size="3.8" font-family="Liberation Serif, serif" fill="#e81818" text-anchor="middle">O</text>
<line x1="345.5" y1="394.2" x2="347.5" y2="385.9" stroke="#484848" stroke-width="0.7" stroke-linecap="round"/>
<line x1="347.5" y1="385.9" x2="342.6" y2="381.5" stroke="#484848" stroke-width="0.7" stroke-linecap="round"/>
<line x1="347.5" y1="385.9" x2="352.5" y2="384.7" stroke="#484848" stroke-width="0.7" stroke-linecap="round"/>
<line x1="347.5" y1="385.9" x2="350.5" y2="382.3" stroke="#e03030" stroke-width="0.55" stroke-linecap="round"/>
<text x="353.5" y="382.3" font-size="4" font-family="Liberation Serif, serif" fill="#e81818" text-anchor="middle" font-weight="bold" textLength="5.6" lengthAdjust="spacingAndGlyphs">OH</text>
<line x1="352.8" y1="399.6" x2="356" y2="398.8" stroke="#484848" stroke-width="0.5" stroke-linecap="round"/>
<text x="360.1" y="400.06" font-size="3.6" font-family="Liberation Serif, serif" fill="#1a1a1a" text-anchor="middle" font-weight="bold" textLength="6.8" lengthAdjust="spacingAndGlyphs">GLC</text>
<line x1="275.7" y1="438.3" x2="271.5" y2="435.7" stroke="#484848" stroke-width="0.7" stroke-linecap="round"/>
<text x="266.9" y="436.56" font-size="3.6" font-family="Liberation Serif, serif" fill="#1a1a1a" text-anchor="middle" font-weight="bold" textLength="6.8" lengthAdjust="spacingAndGlyphs">GLC</text>
<rect x="318.4" y="92.4" width="64.4" height="14.5" fill="#fcc6c6"/>
<text x="323.8" y="102.8" font-size="8.2" font-weight="bold" font-family="Liberation Serif, serif" fill="#111" textLength="49" lengthAdjust="spacingAndGlyphs">Mogroside VI</text>
<rect x="318.4" y="182.4" width="64.4" height="14.5" fill="#aef0c4"/>
<text x="323.8" y="192.8" font-size="8.2" font-weight="bold" font-family="Liberation Serif, serif" fill="#111" textLength="46.4" lengthAdjust="spacingAndGlyphs">Mogroside V</text>
<rect x="318.4" y="260.2" width="64.4" height="14.5" fill="#fcf8c0"/>
<text x="323.8" y="270.6" font-size="8.2" font-weight="bold" font-family="Liberation Serif, serif" fill="#111" textLength="50" lengthAdjust="spacingAndGlyphs">Siamenoside I</text>
<rect x="318.4" y="345.2" width="64.4" height="14.5" fill="#a8f2f0"/>
<text x="323.8" y="355.6" font-size="8.2" font-weight="bold" font-family="Liberation Serif, serif" fill="#111" textLength="48.2" lengthAdjust="spacingAndGlyphs">Mogroside III</text>
<rect x="318.4" y="427.6" width="64.4" height="14.5" fill="#f8c8f6"/>
<text x="323.8" y="438" font-size="8.2" font-weight="bold" font-family="Liberation Serif, serif" fill="#111" textLength="50.3" lengthAdjust="spacingAndGlyphs">Mogroside IIE</text>
<polygon points="314.1,115.5 318.3,120.5 316.2,120.5 316.2,138.9 312,138.9 312,120.5 309.9,120.5" fill="url(#arr)"/>
<polygon points="313,200.9 317.2,205.9 315.1,205.9 315.1,224.4 310.9,224.4 310.9,205.9 308.8,205.9" fill="url(#arr)"/>
<polygon points="312.3,281.5 316.5,286.5 314.4,286.5 314.4,304.4 310.2,304.4 310.2,286.5 308.1,286.5" fill="url(#arr)"/>
<polygon points="311.6,369.2 315.8,374.2 313.7,374.2 313.7,392.1 309.5,392.1 309.5,374.2 307.4,374.2" fill="url(#arr)"/>
<text x="278.1" y="131.1" font-size="6.6" font-weight="bold" font-style="italic" font-family="Liberation Serif, serif" fill="#2a2af4" stroke="#2a2af4" stroke-width="0.15" textLength="31.2" lengthAdjust="spacingAndGlyphs">UGT94-289-3</text>
<text x="277" y="218.2" font-size="6.6" font-weight="bold" font-style="italic" font-family="Liberation Serif, serif" fill="#2a2af4" stroke="#2a2af4" stroke-width="0.15" textLength="31.2" lengthAdjust="spacingAndGlyphs">UGT94-289-3</text>
<text x="277.9" y="296.9" font-size="6.6" font-weight="bold" font-style="italic" font-family="Liberation Serif, serif" fill="#2a2af4" stroke="#2a2af4" stroke-width="0.15" textLength="31.2" lengthAdjust="spacingAndGlyphs">UGT94-289-3</text>
<text x="275.9" y="383.7" font-size="6.6" font-weight="bold" font-style="italic" font-family="Liberation Serif, serif" fill="#2a2af4" stroke="#2a2af4" stroke-width="0.15" textLength="31.2" lengthAdjust="spacingAndGlyphs">UGT94-289-3</text>
<line x1="448.6" y1="20.9" x2="448.6" y2="95.5" stroke="#222" stroke-width="0.6"/>
<line x1="448.6" y1="95.5" x2="539" y2="95.5" stroke="#222" stroke-width="0.6"/>
<line x1="446.8" y1="95.5" x2="448.6" y2="95.5" stroke="#222" stroke-width="0.5"/>
<line x1="447.6" y1="89.28" x2="448.6" y2="89.28" stroke="#222" stroke-width="0.4"/>
<text x="446.2" y="97.1" font-size="4.9" font-family="Liberation Serif, serif" fill="#111" stroke="#111" stroke-width="0.05" text-anchor="end">0</text>
<line x1="446.8" y1="83.07" x2="448.6" y2="83.07" stroke="#222" stroke-width="0.5"/>
<line x1="447.6" y1="76.85" x2="448.6" y2="76.85" stroke="#222" stroke-width="0.4"/>
<text x="446.2" y="84.67" font-size="4.9" font-family="Liberation Serif, serif" fill="#111" stroke="#111" stroke-width="0.05" text-anchor="end">10</text>
<line x1="446.8" y1="70.63" x2="448.6" y2="70.63" stroke="#222" stroke-width="0.5"/>
<line x1="447.6" y1="64.42" x2="448.6" y2="64.42" stroke="#222" stroke-width="0.4"/>
<text x="446.2" y="72.23" font-size="4.9" font-family="Liberation Serif, serif" fill="#111" stroke="#111" stroke-width="0.05" text-anchor="end">20</text>
<line x1="446.8" y1="58.2" x2="448.6" y2="58.2" stroke="#222" stroke-width="0.5"/>
<line x1="447.6" y1="51.98" x2="448.6" y2="51.98" stroke="#222" stroke-width="0.4"/>
<text x="446.2" y="59.8" font-size="4.9" font-family="Liberation Serif, serif" fill="#111" stroke="#111" stroke-width="0.05" text-anchor="end">30</text>
<line x1="446.8" y1="45.77" x2="448.6" y2="45.77" stroke="#222" stroke-width="0.5"/>
<line x1="447.6" y1="39.55" x2="448.6" y2="39.55" stroke="#222" stroke-width="0.4"/>
<text x="446.2" y="47.37" font-size="4.9" font-family="Liberation Serif, serif" fill="#111" stroke="#111" stroke-width="0.05" text-anchor="end">40</text>
<line x1="446.8" y1="33.33" x2="448.6" y2="33.33" stroke="#222" stroke-width="0.5"/>
<line x1="447.6" y1="27.12" x2="448.6" y2="27.12" stroke="#222" stroke-width="0.4"/>
<text x="446.2" y="34.93" font-size="4.9" font-family="Liberation Serif, serif" fill="#111" stroke="#111" stroke-width="0.05" text-anchor="end">50</text>
<line x1="446.8" y1="20.9" x2="448.6" y2="20.9" stroke="#222" stroke-width="0.5"/>
<text x="446.2" y="22.5" font-size="4.9" font-family="Liberation Serif, serif" fill="#111" stroke="#111" stroke-width="0.05" text-anchor="end">60</text>
<rect x="451.9" y="66.16" width="11.1" height="29.34" fill="#0a0af0" stroke="#222" stroke-width="0.45"/>
<line x1="457.45" y1="64.67" x2="457.45" y2="67.65" stroke="#222" stroke-width="0.5"/>
<line x1="456.45" y1="64.67" x2="458.45" y2="64.67" stroke="#222" stroke-width="0.5"/>
<line x1="456.45" y1="67.65" x2="458.45" y2="67.65" stroke="#222" stroke-width="0.5"/>
<line x1="457.45" y1="95.5" x2="457.45" y2="97.1" stroke="#222" stroke-width="0.5"/>
<text x="457.45" y="63.37" font-size="6.6" font-family="Liberation Serif, serif" fill="#000" text-anchor="middle">a</text>
<text x="457.45" y="101.4" font-size="4.9" font-family="Liberation Serif, serif" fill="#000" stroke="#000" stroke-width="0.1" text-anchor="middle">-80°C</text>
<rect x="470.2" y="59.32" width="11.1" height="36.18" fill="#00f0f8" stroke="#222" stroke-width="0.45"/>
<line x1="475.75" y1="56.09" x2="475.75" y2="62.55" stroke="#222" stroke-width="0.5"/>
<line x1="474.75" y1="56.09" x2="476.75" y2="56.09" stroke="#222" stroke-width="0.5"/>
<line x1="474.75" y1="62.55" x2="476.75" y2="62.55" stroke="#222" stroke-width="0.5"/>
<line x1="475.75" y1="95.5" x2="475.75" y2="97.1" stroke="#222" stroke-width="0.5"/>
<text x="475.75" y="54.79" font-size="6.6" font-family="Liberation Serif, serif" fill="#000" text-anchor="middle">ab</text>
<text x="475.75" y="101.4" font-size="4.9" font-family="Liberation Serif, serif" fill="#000" stroke="#000" stroke-width="0.1" text-anchor="middle">4°C</text>
<rect x="488.3" y="55.46" width="11.1" height="40.04" fill="#fcfc10" stroke="#222" stroke-width="0.45"/>
<line x1="493.85" y1="51.24" x2="493.85" y2="59.69" stroke="#222" stroke-width="0.5"/>
<line x1="492.85" y1="51.24" x2="494.85" y2="51.24" stroke="#222" stroke-width="0.5"/>
<line x1="492.85" y1="59.69" x2="494.85" y2="59.69" stroke="#222" stroke-width="0.5"/>
<line x1="493.85" y1="95.5" x2="493.85" y2="97.1" stroke="#222" stroke-width="0.5"/>
<text x="493.85" y="49.94" font-size="6.6" font-family="Liberation Serif, serif" fill="#000" text-anchor="middle">bc</text>
<text x="493.85" y="101.4" font-size="4.9" font-family="Liberation Serif, serif" fill="#000" stroke="#000" stroke-width="0.1" text-anchor="middle">16°C</text>
<rect x="506.5" y="49.25" width="11.1" height="46.25" fill="#ff8000" stroke="#222" stroke-width="0.45"/>
<line x1="512.05" y1="45.27" x2="512.05" y2="53.23" stroke="#222" stroke-width="0.5"/>
<line x1="511.05" y1="45.27" x2="513.05" y2="45.27" stroke="#222" stroke-width="0.5"/>
<line x1="511.05" y1="53.23" x2="513.05" y2="53.23" stroke="#222" stroke-width="0.5"/>
<line x1="512.05" y1="95.5" x2="512.05" y2="97.1" stroke="#222" stroke-width="0.5"/>
<text x="512.05" y="43.97" font-size="6.6" font-family="Liberation Serif, serif" fill="#000" text-anchor="middle">c</text>
<text x="512.05" y="101.4" font-size="4.9" font-family="Liberation Serif, serif" fill="#000" stroke="#000" stroke-width="0.1" text-anchor="middle">25°C</text>
<rect x="524.8" y="34.7" width="11.1" height="60.8" fill="#ff0808" stroke="#222" stroke-width="0.45"/>
<line x1="530.35" y1="31.97" x2="530.35" y2="37.44" stroke="#222" stroke-width="0.5"/>
<line x1="529.35" y1="31.97" x2="531.35" y2="31.97" stroke="#222" stroke-width="0.5"/>
<line x1="529.35" y1="37.44" x2="531.35" y2="37.44" stroke="#222" stroke-width="0.5"/>
<line x1="530.35" y1="95.5" x2="530.35" y2="97.1" stroke="#222" stroke-width="0.5"/>
<text x="530.35" y="30.67" font-size="6.6" font-family="Liberation Serif, serif" fill="#000" text-anchor="middle">d</text>
<text x="530.35" y="101.4" font-size="4.9" font-family="Liberation Serif, serif" fill="#000" stroke="#000" stroke-width="0.1" text-anchor="middle">35°C</text>
<text x="498.7" y="27.8" font-size="5.8" font-weight="bold" font-family="Liberation Serif, serif" fill="#000" text-anchor="middle">Mogroside VI</text>
<text transform="translate(436.8,58.8) rotate(-90)" x="0" y="2.2" font-size="6.4" font-family="Liberation Serif, serif" fill="#111" text-anchor="middle">Content (μg/g)</text>
<line x1="446.2" y1="108.3" x2="446.2" y2="182.6" stroke="#222" stroke-width="0.6"/>
<line x1="446.2" y1="182.6" x2="539" y2="182.6" stroke="#222" stroke-width="0.6"/>
<line x1="444.4" y1="182.6" x2="446.2" y2="182.6" stroke="#222" stroke-width="0.5"/>
<line x1="445.2" y1="178.47" x2="446.2" y2="178.47" stroke="#222" stroke-width="0.4"/>
<text x="443.8" y="184.2" font-size="4.9" font-family="Liberation Serif, serif" fill="#111" stroke="#111" stroke-width="0.05" text-anchor="end">0</text>
<line x1="444.4" y1="174.34" x2="446.2" y2="174.34" stroke="#222" stroke-width="0.5"/>
<line x1="445.2" y1="170.22" x2="446.2" y2="170.22" stroke="#222" stroke-width="0.4"/>
<text x="443.8" y="175.94" font-size="4.9" font-family="Liberation Serif, serif" fill="#111" stroke="#111" stroke-width="0.05" text-anchor="end">500</text>
<line x1="444.4" y1="166.09" x2="446.2" y2="166.09" stroke="#222" stroke-width="0.5"/>
<line x1="445.2" y1="161.96" x2="446.2" y2="161.96" stroke="#222" stroke-width="0.4"/>
<text x="443.8" y="167.69" font-size="4.9" font-family="Liberation Serif, serif" fill="#111" stroke="#111" stroke-width="0.05" text-anchor="end">1000</text>
<line x1="444.4" y1="157.83" x2="446.2" y2="157.83" stroke="#222" stroke-width="0.5"/>
<line x1="445.2" y1="153.71" x2="446.2" y2="153.71" stroke="#222" stroke-width="0.4"/>
<text x="443.8" y="159.43" font-size="4.9" font-family="Liberation Serif, serif" fill="#111" stroke="#111" stroke-width="0.05" text-anchor="end">1500</text>
<line x1="444.4" y1="149.58" x2="446.2" y2="149.58" stroke="#222" stroke-width="0.5"/>
<line x1="445.2" y1="145.45" x2="446.2" y2="145.45" stroke="#222" stroke-width="0.4"/>
<text x="443.8" y="151.18" font-size="4.9" font-family="Liberation Serif, serif" fill="#111" stroke="#111" stroke-width="0.05" text-anchor="end">2000</text>
<line x1="444.4" y1="141.32" x2="446.2" y2="141.32" stroke="#222" stroke-width="0.5"/>
<line x1="445.2" y1="137.19" x2="446.2" y2="137.19" stroke="#222" stroke-width="0.4"/>
<text x="443.8" y="142.92" font-size="4.9" font-family="Liberation Serif, serif" fill="#111" stroke="#111" stroke-width="0.05" text-anchor="end">2500</text>
<line x1="444.4" y1="133.07" x2="446.2" y2="133.07" stroke="#222" stroke-width="0.5"/>
<line x1="445.2" y1="128.94" x2="446.2" y2="128.94" stroke="#222" stroke-width="0.4"/>
<text x="443.8" y="134.67" font-size="4.9" font-family="Liberation Serif, serif" fill="#111" stroke="#111" stroke-width="0.05" text-anchor="end">3000</text>
<line x1="444.4" y1="124.81" x2="446.2" y2="124.81" stroke="#222" stroke-width="0.5"/>
<line x1="445.2" y1="120.68" x2="446.2" y2="120.68" stroke="#222" stroke-width="0.4"/>
<text x="443.8" y="126.41" font-size="4.9" font-family="Liberation Serif, serif" fill="#111" stroke="#111" stroke-width="0.05" text-anchor="end">3500</text>
<line x1="444.4" y1="116.56" x2="446.2" y2="116.56" stroke="#222" stroke-width="0.5"/>
<line x1="445.2" y1="112.43" x2="446.2" y2="112.43" stroke="#222" stroke-width="0.4"/>
<text x="443.8" y="118.16" font-size="4.9" font-family="Liberation Serif, serif" fill="#111" stroke="#111" stroke-width="0.05" text-anchor="end">4000</text>
<line x1="444.4" y1="108.3" x2="446.2" y2="108.3" stroke="#222" stroke-width="0.5"/>
<text x="443.8" y="109.9" font-size="4.9" font-family="Liberation Serif, serif" fill="#111" stroke="#111" stroke-width="0.05" text-anchor="end">4500</text>
<rect x="451" y="134.06" width="11.1" height="48.54" fill="#0a0af0" stroke="#222" stroke-width="0.45"/>
<line x1="456.55" y1="130.09" x2="456.55" y2="138.02" stroke="#222" stroke-width="0.5"/>
<line x1="455.55" y1="130.09" x2="457.55" y2="130.09" stroke="#222" stroke-width="0.5"/>
<line x1="455.55" y1="138.02" x2="457.55" y2="138.02" stroke="#222" stroke-width="0.5"/>
<line x1="456.55" y1="182.6" x2="456.55" y2="184.2" stroke="#222" stroke-width="0.5"/>
<text x="456.55" y="128.79" font-size="6.6" font-family="Liberation Serif, serif" fill="#000" text-anchor="middle">b</text>
<text x="456.55" y="187.4" font-size="4.9" font-family="Liberation Serif, serif" fill="#000" stroke="#000" stroke-width="0.1" text-anchor="middle">-80°C</text>
<rect x="469.3" y="150.5" width="11.1" height="32.1" fill="#00f0f8" stroke="#222" stroke-width="0.45"/>
<line x1="474.85" y1="145.38" x2="474.85" y2="155.62" stroke="#222" stroke-width="0.5"/>
<line x1="473.85" y1="145.38" x2="475.85" y2="145.38" stroke="#222" stroke-width="0.5"/>
<line x1="473.85" y1="155.62" x2="475.85" y2="155.62" stroke="#222" stroke-width="0.5"/>
<line x1="474.85" y1="182.6" x2="474.85" y2="184.2" stroke="#222" stroke-width="0.5"/>
<text x="474.85" y="144.08" font-size="6.6" font-family="Liberation Serif, serif" fill="#000" text-anchor="middle">a</text>
<text x="474.85" y="187.4" font-size="4.9" font-family="Liberation Serif, serif" fill="#000" stroke="#000" stroke-width="0.1" text-anchor="middle">4°C</text>
<rect x="487.9" y="123.56" width="11.1" height="59.04" fill="#fcfc10" stroke="#222" stroke-width="0.45"/>
<line x1="493.45" y1="119.76" x2="493.45" y2="127.35" stroke="#222" stroke-width="0.5"/>
<line x1="492.45" y1="119.76" x2="494.45" y2="119.76" stroke="#222" stroke-width="0.5"/>
<line x1="492.45" y1="127.35" x2="494.45" y2="127.35" stroke="#222" stroke-width="0.5"/>
<line x1="493.45" y1="182.6" x2="493.45" y2="184.2" stroke="#222" stroke-width="0.5"/>
<text x="493.45" y="118.46" font-size="6.6" font-family="Liberation Serif, serif" fill="#000" text-anchor="middle">c</text>
<text x="493.45" y="187.4" font-size="4.9" font-family="Liberation Serif, serif" fill="#000" stroke="#000" stroke-width="0.1" text-anchor="middle">16°C</text>
<rect x="506.5" y="125.19" width="11.1" height="57.41" fill="#ff8000" stroke="#222" stroke-width="0.45"/>
<line x1="512.05" y1="121.39" x2="512.05" y2="128.99" stroke="#222" stroke-width="0.5"/>
<line x1="511.05" y1="121.39" x2="513.05" y2="121.39" stroke="#222" stroke-width="0.5"/>
<line x1="511.05" y1="128.99" x2="513.05" y2="128.99" stroke="#222" stroke-width="0.5"/>
<line x1="512.05" y1="182.6" x2="512.05" y2="184.2" stroke="#222" stroke-width="0.5"/>
<text x="512.05" y="120.09" font-size="6.6" font-family="Liberation Serif, serif" fill="#000" text-anchor="middle">bc</text>
<text x="512.05" y="187.4" font-size="4.9" font-family="Liberation Serif, serif" fill="#000" stroke="#000" stroke-width="0.1" text-anchor="middle">25°C</text>
<rect x="524.8" y="123.56" width="11.1" height="59.04" fill="#ff0808" stroke="#222" stroke-width="0.45"/>
<line x1="530.35" y1="120.42" x2="530.35" y2="126.69" stroke="#222" stroke-width="0.5"/>
<line x1="529.35" y1="120.42" x2="531.35" y2="120.42" stroke="#222" stroke-width="0.5"/>
<line x1="529.35" y1="126.69" x2="531.35" y2="126.69" stroke="#222" stroke-width="0.5"/>
<line x1="530.35" y1="182.6" x2="530.35" y2="184.2" stroke="#222" stroke-width="0.5"/>
<text x="530.35" y="119.12" font-size="6.6" font-family="Liberation Serif, serif" fill="#000" text-anchor="middle">c</text>
<text x="530.35" y="187.4" font-size="4.9" font-family="Liberation Serif, serif" fill="#000" stroke="#000" stroke-width="0.1" text-anchor="middle">35°C</text>
<text x="499.8" y="110.8" font-size="5.8" font-weight="bold" font-family="Liberation Serif, serif" fill="#000" text-anchor="middle">Mogroside V</text>
<text transform="translate(430.6,145) rotate(-90)" x="0" y="2.2" font-size="6.4" font-family="Liberation Serif, serif" fill="#111" text-anchor="middle">Content (μg/g)</text>
<line x1="446.2" y1="191.9" x2="446.2" y2="266.1" stroke="#222" stroke-width="0.6"/>
<line x1="446.2" y1="266.1" x2="539" y2="266.1" stroke="#222" stroke-width="0.6"/>
<line x1="444.4" y1="266.1" x2="446.2" y2="266.1" stroke="#222" stroke-width="0.5"/>
<line x1="445.2" y1="260.36" x2="446.2" y2="260.36" stroke="#222" stroke-width="0.4"/>
<text x="443.8" y="267.7" font-size="4.9" font-family="Liberation Serif, serif" fill="#111" stroke="#111" stroke-width="0.05" text-anchor="end">0</text>
<line x1="444.4" y1="254.62" x2="446.2" y2="254.62" stroke="#222" stroke-width="0.5"/>
<line x1="445.2" y1="248.88" x2="446.2" y2="248.88" stroke="#222" stroke-width="0.4"/>
<text x="443.8" y="256.22" font-size="4.9" font-family="Liberation Serif, serif" fill="#111" stroke="#111" stroke-width="0.05" text-anchor="end">50</text>
<line x1="444.4" y1="243.13" x2="446.2" y2="243.13" stroke="#222" stroke-width="0.5"/>
<line x1="445.2" y1="237.39" x2="446.2" y2="237.39" stroke="#222" stroke-width="0.4"/>
<text x="443.8" y="244.73" font-size="4.9" font-family="Liberation Serif, serif" fill="#111" stroke="#111" stroke-width="0.05" text-anchor="end">100</text>
<line x1="444.4" y1="231.65" x2="446.2" y2="231.65" stroke="#222" stroke-width="0.5"/>
<line x1="445.2" y1="225.91" x2="446.2" y2="225.91" stroke="#222" stroke-width="0.4"/>
<text x="443.8" y="233.25" font-size="4.9" font-family="Liberation Serif, serif" fill="#111" stroke="#111" stroke-width="0.05" text-anchor="end">150</text>
<line x1="444.4" y1="220.17" x2="446.2" y2="220.17" stroke="#222" stroke-width="0.5"/>
<line x1="445.2" y1="214.43" x2="446.2" y2="214.43" stroke="#222" stroke-width="0.4"/>
<text x="443.8" y="221.77" font-size="4.9" font-family="Liberation Serif, serif" fill="#111" stroke="#111" stroke-width="0.05" text-anchor="end">200</text>
<line x1="444.4" y1="208.68" x2="446.2" y2="208.68" stroke="#222" stroke-width="0.5"/>
<line x1="445.2" y1="202.94" x2="446.2" y2="202.94" stroke="#222" stroke-width="0.4"/>
<text x="443.8" y="210.28" font-size="4.9" font-family="Liberation Serif, serif" fill="#111" stroke="#111" stroke-width="0.05" text-anchor="end">250</text>
<line x1="444.4" y1="197.2" x2="446.2" y2="197.2" stroke="#222" stroke-width="0.5"/>
<text x="443.8" y="198.8" font-size="4.9" font-family="Liberation Serif, serif" fill="#111" stroke="#111" stroke-width="0.05" text-anchor="end">300</text>
<rect x="451.2" y="220.17" width="10.9" height="45.93" fill="#0a0af0" stroke="#222" stroke-width="0.45"/>
<line x1="456.65" y1="217.87" x2="456.65" y2="222.46" stroke="#222" stroke-width="0.5"/>
<line x1="455.65" y1="217.87" x2="457.65" y2="217.87" stroke="#222" stroke-width="0.5"/>
<line x1="455.65" y1="222.46" x2="457.65" y2="222.46" stroke="#222" stroke-width="0.5"/>
<line x1="456.65" y1="266.1" x2="456.65" y2="267.7" stroke="#222" stroke-width="0.5"/>
<text x="456.65" y="216.57" font-size="6.6" font-family="Liberation Serif, serif" fill="#000" text-anchor="middle">a</text>
<text x="456.65" y="271.4" font-size="4.9" font-family="Liberation Serif, serif" fill="#000" stroke="#000" stroke-width="0.1" text-anchor="middle">-80°C</text>
<rect x="469.3" y="205.93" width="10.9" height="60.17" fill="#00f0f8" stroke="#222" stroke-width="0.45"/>
<line x1="474.75" y1="202.02" x2="474.75" y2="209.83" stroke="#222" stroke-width="0.5"/>
<line x1="473.75" y1="202.02" x2="475.75" y2="202.02" stroke="#222" stroke-width="0.5"/>
<line x1="473.75" y1="209.83" x2="475.75" y2="209.83" stroke="#222" stroke-width="0.5"/>
<line x1="474.75" y1="266.1" x2="474.75" y2="267.7" stroke="#222" stroke-width="0.5"/>
<text x="474.75" y="200.72" font-size="6.6" font-family="Liberation Serif, serif" fill="#000" text-anchor="middle">b</text>
<text x="474.75" y="271.4" font-size="4.9" font-family="Liberation Serif, serif" fill="#000" stroke="#000" stroke-width="0.1" text-anchor="middle">4°C</text>
<rect x="488.3" y="213.28" width="10.9" height="52.82" fill="#fcfc10" stroke="#222" stroke-width="0.45"/>
<line x1="493.75" y1="205.93" x2="493.75" y2="220.63" stroke="#222" stroke-width="0.5"/>
<line x1="492.75" y1="205.93" x2="494.75" y2="205.93" stroke="#222" stroke-width="0.5"/>
<line x1="492.75" y1="220.63" x2="494.75" y2="220.63" stroke="#222" stroke-width="0.5"/>
<line x1="493.75" y1="266.1" x2="493.75" y2="267.7" stroke="#222" stroke-width="0.5"/>
<text x="493.75" y="204.63" font-size="6.6" font-family="Liberation Serif, serif" fill="#000" text-anchor="middle">ab</text>
<text x="493.75" y="271.4" font-size="4.9" font-family="Liberation Serif, serif" fill="#000" stroke="#000" stroke-width="0.1" text-anchor="middle">16°C</text>
<rect x="506.5" y="210.52" width="10.9" height="55.58" fill="#ff8000" stroke="#222" stroke-width="0.45"/>
<line x1="511.95" y1="208.91" x2="511.95" y2="212.13" stroke="#222" stroke-width="0.5"/>
<line x1="510.95" y1="208.91" x2="512.95" y2="208.91" stroke="#222" stroke-width="0.5"/>
<line x1="510.95" y1="212.13" x2="512.95" y2="212.13" stroke="#222" stroke-width="0.5"/>
<line x1="511.95" y1="266.1" x2="511.95" y2="267.7" stroke="#222" stroke-width="0.5"/>
<text x="511.95" y="207.61" font-size="6.6" font-family="Liberation Serif, serif" fill="#000" text-anchor="middle">ab</text>
<text x="511.95" y="271.4" font-size="4.9" font-family="Liberation Serif, serif" fill="#000" stroke="#000" stroke-width="0.1" text-anchor="middle">25°C</text>
<rect x="524.8" y="208.22" width="10.9" height="57.88" fill="#ff0808" stroke="#222" stroke-width="0.45"/>
<line x1="530.25" y1="206.62" x2="530.25" y2="209.83" stroke="#222" stroke-width="0.5"/>
<line x1="529.25" y1="206.62" x2="531.25" y2="206.62" stroke="#222" stroke-width="0.5"/>
<line x1="529.25" y1="209.83" x2="531.25" y2="209.83" stroke="#222" stroke-width="0.5"/>
<line x1="530.25" y1="266.1" x2="530.25" y2="267.7" stroke="#222" stroke-width="0.5"/>
<text x="530.25" y="205.32" font-size="6.6" font-family="Liberation Serif, serif" fill="#000" text-anchor="middle">b</text>
<text x="530.25" y="271.4" font-size="4.9" font-family="Liberation Serif, serif" fill="#000" stroke="#000" stroke-width="0.1" text-anchor="middle">35°C</text>
<text x="500.2" y="197.8" font-size="5.8" font-weight="bold" font-family="Liberation Serif, serif" fill="#000" text-anchor="middle">Siamenoside I</text>
<text transform="translate(432.9,229.3) rotate(-90)" x="0" y="2.2" font-size="6.4" font-family="Liberation Serif, serif" fill="#111" text-anchor="middle">Content (μg/g)</text>
<line x1="447.6" y1="278.3" x2="447.6" y2="353.6" stroke="#222" stroke-width="0.6"/>
<line x1="447.6" y1="353.6" x2="540" y2="353.6" stroke="#222" stroke-width="0.6"/>
<line x1="445.8" y1="353.6" x2="447.6" y2="353.6" stroke="#222" stroke-width="0.5"/>
<line x1="446.6" y1="347.33" x2="447.6" y2="347.33" stroke="#222" stroke-width="0.4"/>
<text x="445.2" y="355.2" font-size="4.9" font-family="Liberation Serif, serif" fill="#111" stroke="#111" stroke-width="0.05" text-anchor="end">0</text>
<line x1="445.8" y1="341.05" x2="447.6" y2="341.05" stroke="#222" stroke-width="0.5"/>
<line x1="446.6" y1="334.78" x2="447.6" y2="334.78" stroke="#222" stroke-width="0.4"/>
<text x="445.2" y="342.65" font-size="4.9" font-family="Liberation Serif, serif" fill="#111" stroke="#111" stroke-width="0.05" text-anchor="end">10</text>
<line x1="445.8" y1="328.5" x2="447.6" y2="328.5" stroke="#222" stroke-width="0.5"/>
<line x1="446.6" y1="322.23" x2="447.6" y2="322.23" stroke="#222" stroke-width="0.4"/>
<text x="445.2" y="330.1" font-size="4.9" font-family="Liberation Serif, serif" fill="#111" stroke="#111" stroke-width="0.05" text-anchor="end">20</text>
<line x1="445.8" y1="315.95" x2="447.6" y2="315.95" stroke="#222" stroke-width="0.5"/>
<line x1="446.6" y1="309.68" x2="447.6" y2="309.68" stroke="#222" stroke-width="0.4"/>
<text x="445.2" y="317.55" font-size="4.9" font-family="Liberation Serif, serif" fill="#111" stroke="#111" stroke-width="0.05" text-anchor="end">30</text>
<line x1="445.8" y1="303.4" x2="447.6" y2="303.4" stroke="#222" stroke-width="0.5"/>
<line x1="446.6" y1="297.12" x2="447.6" y2="297.12" stroke="#222" stroke-width="0.4"/>
<text x="445.2" y="305" font-size="4.9" font-family="Liberation Serif, serif" fill="#111" stroke="#111" stroke-width="0.05" text-anchor="end">40</text>
<line x1="445.8" y1="290.85" x2="447.6" y2="290.85" stroke="#222" stroke-width="0.5"/>
<line x1="446.6" y1="284.58" x2="447.6" y2="284.58" stroke="#222" stroke-width="0.4"/>
<text x="445.2" y="292.45" font-size="4.9" font-family="Liberation Serif, serif" fill="#111" stroke="#111" stroke-width="0.05" text-anchor="end">50</text>
<line x1="445.8" y1="278.3" x2="447.6" y2="278.3" stroke="#222" stroke-width="0.5"/>
<text x="445.2" y="279.9" font-size="4.9" font-family="Liberation Serif, serif" fill="#111" stroke="#111" stroke-width="0.05" text-anchor="end">60</text>
<rect x="451" y="298.88" width="11.2" height="54.72" fill="#0a0af0" stroke="#222" stroke-width="0.45"/>
<line x1="456.6" y1="298.13" x2="456.6" y2="299.63" stroke="#222" stroke-width="0.5"/>
<line x1="455.6" y1="298.13" x2="457.6" y2="298.13" stroke="#222" stroke-width="0.5"/>
<line x1="455.6" y1="299.63" x2="457.6" y2="299.63" stroke="#222" stroke-width="0.5"/>
<line x1="456.6" y1="353.6" x2="456.6" y2="355.2" stroke="#222" stroke-width="0.5"/>
<text x="456.6" y="296.83" font-size="6.6" font-family="Liberation Serif, serif" fill="#000" text-anchor="middle">b</text>
<text x="456.6" y="358.7" font-size="4.9" font-family="Liberation Serif, serif" fill="#000" stroke="#000" stroke-width="0.1" text-anchor="middle">-80°C</text>
<rect x="469.9" y="288.97" width="11.2" height="64.63" fill="#00f0f8" stroke="#222" stroke-width="0.45"/>
<line x1="475.5" y1="284.95" x2="475.5" y2="292.98" stroke="#222" stroke-width="0.5"/>
<line x1="474.5" y1="284.95" x2="476.5" y2="284.95" stroke="#222" stroke-width="0.5"/>
<line x1="474.5" y1="292.98" x2="476.5" y2="292.98" stroke="#222" stroke-width="0.5"/>
<line x1="475.5" y1="353.6" x2="475.5" y2="355.2" stroke="#222" stroke-width="0.5"/>
<text x="475.5" y="283.65" font-size="6.6" font-family="Liberation Serif, serif" fill="#000" text-anchor="middle">c</text>
<text x="475.5" y="358.7" font-size="4.9" font-family="Liberation Serif, serif" fill="#000" stroke="#000" stroke-width="0.1" text-anchor="middle">4°C</text>
<rect x="488.3" y="349.08" width="11.2" height="4.52" fill="#fcfc10" stroke="#222" stroke-width="0.45"/>
<line x1="493.9" y1="348.33" x2="493.9" y2="349.83" stroke="#222" stroke-width="0.5"/>
<line x1="492.9" y1="348.33" x2="494.9" y2="348.33" stroke="#222" stroke-width="0.5"/>
<line x1="492.9" y1="349.83" x2="494.9" y2="349.83" stroke="#222" stroke-width="0.5"/>
<line x1="493.9" y1="353.6" x2="493.9" y2="355.2" stroke="#222" stroke-width="0.5"/>
<text x="493.9" y="347.03" font-size="6.6" font-family="Liberation Serif, serif" fill="#000" text-anchor="middle">a</text>
<text x="493.9" y="358.7" font-size="4.9" font-family="Liberation Serif, serif" fill="#000" stroke="#000" stroke-width="0.1" text-anchor="middle">16°C</text>
<rect x="507" y="348.33" width="11.2" height="5.27" fill="#ff8000" stroke="#222" stroke-width="0.45"/>
<line x1="512.6" y1="346.82" x2="512.6" y2="349.83" stroke="#222" stroke-width="0.5"/>
<line x1="511.6" y1="346.82" x2="513.6" y2="346.82" stroke="#222" stroke-width="0.5"/>
<line x1="511.6" y1="349.83" x2="513.6" y2="349.83" stroke="#222" stroke-width="0.5"/>
<line x1="512.6" y1="353.6" x2="512.6" y2="355.2" stroke="#222" stroke-width="0.5"/>
<text x="512.6" y="345.52" font-size="6.6" font-family="Liberation Serif, serif" fill="#000" text-anchor="middle">a</text>
<text x="512.6" y="358.7" font-size="4.9" font-family="Liberation Serif, serif" fill="#000" stroke="#000" stroke-width="0.1" text-anchor="middle">25°C</text>
<rect x="525.6" y="342.05" width="11.2" height="11.55" fill="#ff0808" stroke="#222" stroke-width="0.45"/>
<line x1="531.2" y1="337.66" x2="531.2" y2="346.45" stroke="#222" stroke-width="0.5"/>
<line x1="530.2" y1="337.66" x2="532.2" y2="337.66" stroke="#222" stroke-width="0.5"/>
<line x1="530.2" y1="346.45" x2="532.2" y2="346.45" stroke="#222" stroke-width="0.5"/>
<line x1="531.2" y1="353.6" x2="531.2" y2="355.2" stroke="#222" stroke-width="0.5"/>
<text x="531.2" y="336.36" font-size="6.6" font-family="Liberation Serif, serif" fill="#000" text-anchor="middle">a</text>
<text x="531.2" y="358.7" font-size="4.9" font-family="Liberation Serif, serif" fill="#000" stroke="#000" stroke-width="0.1" text-anchor="middle">35°C</text>
<text x="502.8" y="286.2" font-size="5.8" font-weight="bold" font-family="Liberation Serif, serif" fill="#000" text-anchor="middle">Mogroside III</text>
<text transform="translate(434.8,315.2) rotate(-90)" x="0" y="2.2" font-size="6.4" font-family="Liberation Serif, serif" fill="#111" text-anchor="middle">Content (μg/g)</text>
<line x1="448.6" y1="359" x2="448.6" y2="438.2" stroke="#222" stroke-width="0.6"/>
<line x1="448.6" y1="438.2" x2="545.7" y2="438.2" stroke="#222" stroke-width="0.6"/>
<line x1="446.8" y1="438.2" x2="448.6" y2="438.2" stroke="#222" stroke-width="0.5"/>
<line x1="447.6" y1="431.6" x2="448.6" y2="431.6" stroke="#222" stroke-width="0.4"/>
<text x="446.2" y="439.8" font-size="4.9" font-family="Liberation Serif, serif" fill="#111" stroke="#111" stroke-width="0.05" text-anchor="end">0</text>
<line x1="446.8" y1="425" x2="448.6" y2="425" stroke="#222" stroke-width="0.5"/>
<line x1="447.6" y1="418.4" x2="448.6" y2="418.4" stroke="#222" stroke-width="0.4"/>
<text x="446.2" y="426.6" font-size="4.9" font-family="Liberation Serif, serif" fill="#111" stroke="#111" stroke-width="0.05" text-anchor="end">2</text>
<line x1="446.8" y1="411.8" x2="448.6" y2="411.8" stroke="#222" stroke-width="0.5"/>
<line x1="447.6" y1="405.2" x2="448.6" y2="405.2" stroke="#222" stroke-width="0.4"/>
<text x="446.2" y="413.4" font-size="4.9" font-family="Liberation Serif, serif" fill="#111" stroke="#111" stroke-width="0.05" text-anchor="end">4</text>
<line x1="446.8" y1="398.6" x2="448.6" y2="398.6" stroke="#222" stroke-width="0.5"/>
<line x1="447.6" y1="392" x2="448.6" y2="392" stroke="#222" stroke-width="0.4"/>
<text x="446.2" y="400.2" font-size="4.9" font-family="Liberation Serif, serif" fill="#111" stroke="#111" stroke-width="0.05" text-anchor="end">6</text>
<line x1="446.8" y1="385.4" x2="448.6" y2="385.4" stroke="#222" stroke-width="0.5"/>
<line x1="447.6" y1="378.8" x2="448.6" y2="378.8" stroke="#222" stroke-width="0.4"/>
<text x="446.2" y="387" font-size="4.9" font-family="Liberation Serif, serif" fill="#111" stroke="#111" stroke-width="0.05" text-anchor="end">8</text>
<line x1="446.8" y1="372.2" x2="448.6" y2="372.2" stroke="#222" stroke-width="0.5"/>
<line x1="447.6" y1="365.6" x2="448.6" y2="365.6" stroke="#222" stroke-width="0.4"/>
<text x="446.2" y="373.8" font-size="4.9" font-family="Liberation Serif, serif" fill="#111" stroke="#111" stroke-width="0.05" text-anchor="end">10</text>
<line x1="446.8" y1="359" x2="448.6" y2="359" stroke="#222" stroke-width="0.5"/>
<text x="446.2" y="360.6" font-size="4.9" font-family="Liberation Serif, serif" fill="#111" stroke="#111" stroke-width="0.05" text-anchor="end">12</text>
<rect x="453.1" y="389.03" width="11.6" height="49.17" fill="#0a0af0" stroke="#222" stroke-width="0.45"/>
<line x1="458.9" y1="383.75" x2="458.9" y2="394.31" stroke="#222" stroke-width="0.5"/>
<line x1="457.9" y1="383.75" x2="459.9" y2="383.75" stroke="#222" stroke-width="0.5"/>
<line x1="457.9" y1="394.31" x2="459.9" y2="394.31" stroke="#222" stroke-width="0.5"/>
<line x1="458.9" y1="438.2" x2="458.9" y2="439.8" stroke="#222" stroke-width="0.5"/>
<text x="458.9" y="382.45" font-size="6.6" font-family="Liberation Serif, serif" fill="#000" text-anchor="middle">bc</text>
<text x="458.9" y="443.94" font-size="5.6" font-family="Liberation Serif, serif" fill="#000" stroke="#000" stroke-width="0.1" text-anchor="middle">-80°C</text>
<rect x="471.7" y="378.4" width="11.6" height="59.8" fill="#00f0f8" stroke="#222" stroke-width="0.45"/>
<line x1="477.5" y1="370.48" x2="477.5" y2="386.32" stroke="#222" stroke-width="0.5"/>
<line x1="476.5" y1="370.48" x2="478.5" y2="370.48" stroke="#222" stroke-width="0.5"/>
<line x1="476.5" y1="386.32" x2="478.5" y2="386.32" stroke="#222" stroke-width="0.5"/>
<line x1="477.5" y1="438.2" x2="477.5" y2="439.8" stroke="#222" stroke-width="0.5"/>
<text x="477.5" y="369.18" font-size="6.6" font-family="Liberation Serif, serif" fill="#000" text-anchor="middle">c</text>
<text x="477.5" y="443.94" font-size="5.6" font-family="Liberation Serif, serif" fill="#000" stroke="#000" stroke-width="0.1" text-anchor="middle">4°C</text>
<rect x="491.7" y="408.83" width="11.6" height="29.37" fill="#fcfc10" stroke="#222" stroke-width="0.45"/>
<line x1="497.5" y1="401.57" x2="497.5" y2="416.09" stroke="#222" stroke-width="0.5"/>
<line x1="496.5" y1="401.57" x2="498.5" y2="401.57" stroke="#222" stroke-width="0.5"/>
<line x1="496.5" y1="416.09" x2="498.5" y2="416.09" stroke="#222" stroke-width="0.5"/>
<line x1="497.5" y1="438.2" x2="497.5" y2="439.8" stroke="#222" stroke-width="0.5"/>
<text x="497.5" y="400.27" font-size="6.6" font-family="Liberation Serif, serif" fill="#000" text-anchor="middle">a</text>
<text x="497.5" y="443.94" font-size="5.6" font-family="Liberation Serif, serif" fill="#000" stroke="#000" stroke-width="0.1" text-anchor="middle">16°C</text>
<rect x="510.8" y="404.54" width="11.6" height="33.66" fill="#ff8000" stroke="#222" stroke-width="0.45"/>
<line x1="516.6" y1="401.24" x2="516.6" y2="407.84" stroke="#222" stroke-width="0.5"/>
<line x1="515.6" y1="401.24" x2="517.6" y2="401.24" stroke="#222" stroke-width="0.5"/>
<line x1="515.6" y1="407.84" x2="517.6" y2="407.84" stroke="#222" stroke-width="0.5"/>
<line x1="516.6" y1="438.2" x2="516.6" y2="439.8" stroke="#222" stroke-width="0.5"/>
<text x="516.6" y="399.94" font-size="6.6" font-family="Liberation Serif, serif" fill="#000" text-anchor="middle">ab</text>
<text x="516.6" y="443.94" font-size="5.6" font-family="Liberation Serif, serif" fill="#000" stroke="#000" stroke-width="0.1" text-anchor="middle">25°C</text>
<rect x="530" y="401.57" width="11.6" height="36.63" fill="#ff0808" stroke="#222" stroke-width="0.45"/>
<line x1="535.8" y1="399.59" x2="535.8" y2="403.55" stroke="#222" stroke-width="0.5"/>
<line x1="534.8" y1="399.59" x2="536.8" y2="399.59" stroke="#222" stroke-width="0.5"/>
<line x1="534.8" y1="403.55" x2="536.8" y2="403.55" stroke="#222" stroke-width="0.5"/>
<line x1="535.8" y1="438.2" x2="535.8" y2="439.8" stroke="#222" stroke-width="0.5"/>
<text x="535.8" y="398.29" font-size="6.6" font-family="Liberation Serif, serif" fill="#000" text-anchor="middle">ab</text>
<text x="535.8" y="443.94" font-size="5.6" font-family="Liberation Serif, serif" fill="#000" stroke="#000" stroke-width="0.1" text-anchor="middle">35°C</text>
<text x="504" y="373.2" font-size="5.8" font-weight="bold" font-family="Liberation Serif, serif" fill="#000" text-anchor="middle">Mogroside IIE</text>
<text transform="translate(436,399) rotate(-90)" x="0" y="2.2" font-size="6.4" font-family="Liberation Serif, serif" fill="#111" text-anchor="middle">Content (μg/g)</text>
<text x="497" y="455" font-size="6.9" font-family="Liberation Serif, serif" fill="#000" text-anchor="middle">Temperature (°C)</text>
</svg></body></html>
